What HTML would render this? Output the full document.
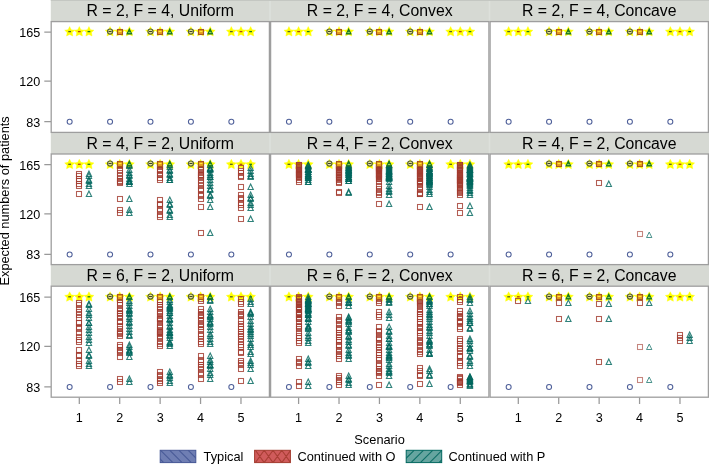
<!DOCTYPE html>
<html lang="en"><head><meta charset="utf-8"><title>Expected numbers of patients by scenario</title>
<style>html,body{margin:0;padding:0;background:#fff;overflow:hidden}svg{display:block}</style></head>
<body>
<svg width="709" height="464" viewBox="0 0 709 464" font-family="'Liberation Sans', sans-serif">
<rect width="709" height="464" fill="#fff"/>
<rect x="50.8" y="0" width="658.2" height="21.6" fill="#D6D9D3"/>
<rect x="269.2" y="0" width="1.6" height="21.6" fill="#DDE0DB"/>
<rect x="488.7" y="0" width="1.6" height="21.6" fill="#DDE0DB"/>
<rect x="50.8" y="132.4" width="658.2" height="21.6" fill="#D6D9D3"/>
<rect x="269.2" y="132.4" width="1.6" height="21.6" fill="#DDE0DB"/>
<rect x="488.7" y="132.4" width="1.6" height="21.6" fill="#DDE0DB"/>
<rect x="50.8" y="264.6" width="658.2" height="21.6" fill="#D6D9D3"/>
<rect x="269.2" y="264.6" width="1.6" height="21.6" fill="#DDE0DB"/>
<rect x="488.7" y="264.6" width="1.6" height="21.6" fill="#DDE0DB"/>
<rect x="50.8" y="0" width="658.2" height="1" fill="#C4C7C2"/>
<rect x="51.2" y="21.6" width="218.2" height="110.8" fill="#fff" stroke="#9E9E9E" stroke-width="1.3"/>
<rect x="270.6" y="21.6" width="218.3" height="110.8" fill="#fff" stroke="#9E9E9E" stroke-width="1.3"/>
<rect x="490.1" y="21.6" width="218.3" height="110.8" fill="#fff" stroke="#9E9E9E" stroke-width="1.3"/>
<rect x="51.2" y="154" width="218.2" height="110.6" fill="#fff" stroke="#9E9E9E" stroke-width="1.3"/>
<rect x="270.6" y="154" width="218.3" height="110.6" fill="#fff" stroke="#9E9E9E" stroke-width="1.3"/>
<rect x="490.1" y="154" width="218.3" height="110.6" fill="#fff" stroke="#9E9E9E" stroke-width="1.3"/>
<rect x="51.2" y="286.2" width="218.2" height="111" fill="#fff" stroke="#9E9E9E" stroke-width="1.3"/>
<rect x="270.6" y="286.2" width="218.3" height="111" fill="#fff" stroke="#9E9E9E" stroke-width="1.3"/>
<rect x="490.1" y="286.2" width="218.3" height="111" fill="#fff" stroke="#9E9E9E" stroke-width="1.3"/>
<path d="M44.3 32 H51 M44.3 81.23 H51 M44.3 121.7 H51 M44.3 164.7 H51 M44.3 213.93 H51 M44.3 254.4 H51 M44.3 297.2 H51 M44.3 346.43 H51 M44.3 386.9 H51 M79.3 397.6 V404 M119.72 397.6 V404 M160.14 397.6 V404 M200.56 397.6 V404 M240.98 397.6 V404 M298.6 397.6 V404 M339.02 397.6 V404 M379.44 397.6 V404 M419.86 397.6 V404 M460.28 397.6 V404 M518.3 397.6 V404 M558.72 397.6 V404 M599.14 397.6 V404 M639.56 397.6 V404 M679.98 397.6 V404" stroke="#999" stroke-width="1.25" fill="none"/>
<g font-size="12.6" fill="#000" text-anchor="end">
<text x="40.2" y="36.9">165</text>
<text x="40.2" y="86.13">120</text>
<text x="40.2" y="126.6">83</text>
<text x="40.2" y="169.6">165</text>
<text x="40.2" y="218.83">120</text>
<text x="40.2" y="259.3">83</text>
<text x="40.2" y="302.1">165</text>
<text x="40.2" y="351.33">120</text>
<text x="40.2" y="391.8">83</text>
</g>
<g font-size="12.6" fill="#000" text-anchor="middle">
<text x="79.3" y="421.8">1</text>
<text x="119.72" y="421.8">2</text>
<text x="160.14" y="421.8">3</text>
<text x="200.56" y="421.8">4</text>
<text x="240.98" y="421.8">5</text>
<text x="298.6" y="421.8">1</text>
<text x="339.02" y="421.8">2</text>
<text x="379.44" y="421.8">3</text>
<text x="419.86" y="421.8">4</text>
<text x="460.28" y="421.8">5</text>
<text x="518.3" y="421.8">1</text>
<text x="558.72" y="421.8">2</text>
<text x="599.14" y="421.8">3</text>
<text x="639.56" y="421.8">4</text>
<text x="679.98" y="421.8">5</text>
</g>
<g font-size="15.8" fill="#000" text-anchor="middle">
<text x="160.3" y="16.1">R = 2, F = 4, Uniform</text>
<text x="379.75" y="16.1">R = 2, F = 4, Convex</text>
<text x="599.25" y="16.1">R = 2, F = 4, Concave</text>
<text x="160.3" y="148.5">R = 4, F = 2, Uniform</text>
<text x="379.75" y="148.5">R = 4, F = 2, Convex</text>
<text x="599.25" y="148.5">R = 4, F = 2, Concave</text>
<text x="160.3" y="280.7">R = 6, F = 2, Uniform</text>
<text x="379.75" y="280.7">R = 6, F = 2, Convex</text>
<text x="599.25" y="280.7">R = 6, F = 2, Concave</text>
</g>
<text font-size="12.8" text-anchor="middle" transform="translate(9.0 200.9) rotate(-90)">Expected numbers of patients</text>
<text font-size="12.8" text-anchor="middle" x="379.6" y="444.2">Scenario</text>
<defs>
<clipPath id="cb"><rect x="160.2" y="450.3" width="35.6" height="12.3"/></clipPath>
<clipPath id="cr"><rect x="254.6" y="450.3" width="35.8" height="12.3"/></clipPath>
<clipPath id="ct"><rect x="406.2" y="450.3" width="35.5" height="12.3"/></clipPath>
</defs>
<rect x="160.2" y="450.3" width="35.6" height="12.3" fill="#6F7EB3"/>
<path clip-path="url(#cb)" d="M151.4 450.3 l12.3 12.3 M160.6 450.3 l12.3 12.3 M169.8 450.3 l12.3 12.3 M179 450.3 l12.3 12.3 M188.2 450.3 l12.3 12.3" stroke="#445694" stroke-width="1.1" stroke-opacity="0.85" fill="none"/>
<rect x="160.2" y="450.3" width="35.6" height="12.3" fill="none" stroke="#445694" stroke-width="1"/>
<rect x="254.6" y="450.3" width="35.8" height="12.3" fill="#D05B5B"/>
<path clip-path="url(#cr)" d="M255.4 450.3 l8.8 12.3 M264.2 450.3 l-8.8 12.3 M264.2 450.3 l8.8 12.3 M273 450.3 l-8.8 12.3 M273 450.3 l8.8 12.3 M281.8 450.3 l-8.8 12.3 M281.8 450.3 l8.8 12.3 M290.6 450.3 l-8.8 12.3" stroke="#A23A2E" stroke-width="1.1" stroke-opacity="0.85" fill="none"/>
<rect x="254.6" y="450.3" width="35.8" height="12.3" fill="none" stroke="#A23A2E" stroke-width="1"/>
<rect x="406.2" y="450.3" width="35.5" height="12.3" fill="#66A5A0"/>
<path clip-path="url(#ct)" d="M414.1 450.3 l-12.3 12.3 M423.4 450.3 l-12.3 12.3 M432.7 450.3 l-12.3 12.3 M442 450.3 l-12.3 12.3 M451.3 450.3 l-12.3 12.3" stroke="#01665E" stroke-width="1.1" stroke-opacity="0.85" fill="none"/>
<rect x="406.2" y="450.3" width="35.5" height="12.3" fill="none" stroke="#01665E" stroke-width="1"/>
<g font-size="12.8" fill="#000">
<text x="203.6" y="460.8">Typical</text>
<text x="297.4" y="460.8">Continued with O</text>
<text x="448.6" y="460.8">Continued with P</text>
</g>
<g fill="#FFFF00" stroke="#FFFF00" stroke-width="0.6" stroke-linejoin="round" stroke-opacity="0.6"><polygon points="69.65,26.55 71.21,29.66 74.64,30.18 72.17,32.62 72.74,36.05 69.65,34.45 66.56,36.05 67.13,32.62 64.66,30.18 68.09,29.66"/><polygon points="79.3,26.55 80.86,29.66 84.29,30.18 81.82,32.62 82.39,36.05 79.3,34.45 76.21,36.05 76.78,32.62 74.31,30.18 77.74,29.66"/><polygon points="88.95,26.55 90.51,29.66 93.94,30.18 91.47,32.62 92.04,36.05 88.95,34.45 85.86,36.05 86.43,32.62 83.96,30.18 87.39,29.66"/><polygon points="110.07,26.55 111.63,29.66 115.06,30.18 112.59,32.62 113.16,36.05 110.07,34.45 106.98,36.05 107.55,32.62 105.08,30.18 108.51,29.66"/><polygon points="119.72,26.55 121.28,29.66 124.71,30.18 122.24,32.62 122.81,36.05 119.72,34.45 116.63,36.05 117.2,32.62 114.73,30.18 118.16,29.66"/><polygon points="129.37,26.55 130.93,29.66 134.36,30.18 131.89,32.62 132.46,36.05 129.37,34.45 126.28,36.05 126.85,32.62 124.38,30.18 127.81,29.66"/><polygon points="150.49,26.55 152.05,29.66 155.48,30.18 153.01,32.62 153.58,36.05 150.49,34.45 147.4,36.05 147.97,32.62 145.5,30.18 148.93,29.66"/><polygon points="160.14,26.55 161.7,29.66 165.13,30.18 162.66,32.62 163.23,36.05 160.14,34.45 157.05,36.05 157.62,32.62 155.15,30.18 158.58,29.66"/><polygon points="169.79,26.55 171.35,29.66 174.78,30.18 172.31,32.62 172.88,36.05 169.79,34.45 166.7,36.05 167.27,32.62 164.8,30.18 168.23,29.66"/><polygon points="190.91,26.55 192.47,29.66 195.9,30.18 193.43,32.62 194,36.05 190.91,34.45 187.82,36.05 188.39,32.62 185.92,30.18 189.35,29.66"/><polygon points="200.56,26.55 202.12,29.66 205.55,30.18 203.08,32.62 203.65,36.05 200.56,34.45 197.47,36.05 198.04,32.62 195.57,30.18 199,29.66"/><polygon points="210.21,26.55 211.77,29.66 215.2,30.18 212.73,32.62 213.3,36.05 210.21,34.45 207.12,36.05 207.69,32.62 205.22,30.18 208.65,29.66"/><polygon points="231.33,26.55 232.89,29.66 236.32,30.18 233.85,32.62 234.42,36.05 231.33,34.45 228.24,36.05 228.81,32.62 226.34,30.18 229.77,29.66"/><polygon points="240.98,26.55 242.54,29.66 245.97,30.18 243.5,32.62 244.07,36.05 240.98,34.45 237.89,36.05 238.46,32.62 235.99,30.18 239.42,29.66"/><polygon points="250.63,26.55 252.19,29.66 255.62,30.18 253.15,32.62 253.72,36.05 250.63,34.45 247.54,36.05 248.11,32.62 245.64,30.18 249.07,29.66"/></g>
<g fill="none" stroke="#445694" stroke-width="1.05" stroke-opacity="0.95"><circle cx="69.65" cy="121.7" r="2.5"/><circle cx="110.07" cy="121.7" r="2.5"/><circle cx="150.49" cy="121.7" r="2.5"/><circle cx="190.91" cy="121.7" r="2.5"/><circle cx="231.33" cy="121.7" r="2.5"/></g>
<path d="M68.25 31.6 h2.8" stroke="#55602A" stroke-width="1.3"/><path d="M77.9 31.6 h2.8" stroke="#B04A10" stroke-width="1.3"/><path d="M87.55 31.6 h2.8" stroke="#1F7A1F" stroke-width="1.3"/>
<g fill="#E4E48E" stroke="#565F34" stroke-width="1.15"><circle cx="110.07" cy="31.5" r="2.55"/></g><g fill="#E79E1C" stroke="#A9591A" stroke-width="1.1"><rect x="117.5" y="29.5" width="5" height="5"/></g><g fill="#2F8F2A" stroke="#1B7524" stroke-width="1.15"><polygon points="129.37,29.2 131.67,34 127.07,34"/></g>
<path d="M108.57 31.5 h3" stroke-width="1" stroke="#3A4030"/><path d="M118.5 31.5 h3" stroke-width="1" stroke="#FFE63A"/><path d="M128.17 32.5 h2.4" stroke-width="1" stroke="#8FD05A"/>
<g fill="#E4E48E" stroke="#565F34" stroke-width="1.15"><circle cx="150.49" cy="31.5" r="2.55"/></g><g fill="#E79E1C" stroke="#A9591A" stroke-width="1.1"><rect x="157.5" y="29.5" width="5" height="5"/></g><g fill="#2F8F2A" stroke="#1B7524" stroke-width="1.15"><polygon points="169.79,29.2 172.09,34 167.49,34"/></g>
<path d="M148.99 31.5 h3" stroke-width="1" stroke="#3A4030"/><path d="M158.5 31.5 h3" stroke-width="1" stroke="#FFE63A"/><path d="M168.59 32.5 h2.4" stroke-width="1" stroke="#8FD05A"/>
<g fill="#E4E48E" stroke="#565F34" stroke-width="1.15"><circle cx="190.91" cy="31.5" r="2.55"/></g><g fill="#E79E1C" stroke="#A9591A" stroke-width="1.1"><rect x="198.5" y="29.5" width="5" height="5"/></g><g fill="#2F8F2A" stroke="#1B7524" stroke-width="1.15"><polygon points="210.21,29.2 212.51,34 207.91,34"/></g>
<path d="M189.41 31.5 h3" stroke-width="1" stroke="#3A4030"/><path d="M199.5 31.5 h3" stroke-width="1" stroke="#FFE63A"/><path d="M209.01 32.5 h2.4" stroke-width="1" stroke="#8FD05A"/>
<path d="M229.93 31.6 h2.8" stroke="#55602A" stroke-width="1.3"/><path d="M239.58 31.6 h2.8" stroke="#B04A10" stroke-width="1.3"/><path d="M249.23 31.6 h2.8" stroke="#1F7A1F" stroke-width="1.3"/>
<g fill="#FFFF00" stroke="#FFFF00" stroke-width="0.6" stroke-linejoin="round" stroke-opacity="0.6"><polygon points="288.95,26.55 290.51,29.66 293.94,30.18 291.47,32.62 292.04,36.05 288.95,34.45 285.86,36.05 286.43,32.62 283.96,30.18 287.39,29.66"/><polygon points="298.6,26.55 300.16,29.66 303.59,30.18 301.12,32.62 301.69,36.05 298.6,34.45 295.51,36.05 296.08,32.62 293.61,30.18 297.04,29.66"/><polygon points="308.25,26.55 309.81,29.66 313.24,30.18 310.77,32.62 311.34,36.05 308.25,34.45 305.16,36.05 305.73,32.62 303.26,30.18 306.69,29.66"/><polygon points="329.37,26.55 330.93,29.66 334.36,30.18 331.89,32.62 332.46,36.05 329.37,34.45 326.28,36.05 326.85,32.62 324.38,30.18 327.81,29.66"/><polygon points="339.02,26.55 340.58,29.66 344.01,30.18 341.54,32.62 342.11,36.05 339.02,34.45 335.93,36.05 336.5,32.62 334.03,30.18 337.46,29.66"/><polygon points="348.67,26.55 350.23,29.66 353.66,30.18 351.19,32.62 351.76,36.05 348.67,34.45 345.58,36.05 346.15,32.62 343.68,30.18 347.11,29.66"/><polygon points="369.79,26.55 371.35,29.66 374.78,30.18 372.31,32.62 372.88,36.05 369.79,34.45 366.7,36.05 367.27,32.62 364.8,30.18 368.23,29.66"/><polygon points="379.44,26.55 381,29.66 384.43,30.18 381.96,32.62 382.53,36.05 379.44,34.45 376.35,36.05 376.92,32.62 374.45,30.18 377.88,29.66"/><polygon points="389.09,26.55 390.65,29.66 394.08,30.18 391.61,32.62 392.18,36.05 389.09,34.45 386,36.05 386.57,32.62 384.1,30.18 387.53,29.66"/><polygon points="410.21,26.55 411.77,29.66 415.2,30.18 412.73,32.62 413.3,36.05 410.21,34.45 407.12,36.05 407.69,32.62 405.22,30.18 408.65,29.66"/><polygon points="419.86,26.55 421.42,29.66 424.85,30.18 422.38,32.62 422.95,36.05 419.86,34.45 416.77,36.05 417.34,32.62 414.87,30.18 418.3,29.66"/><polygon points="429.51,26.55 431.07,29.66 434.5,30.18 432.03,32.62 432.6,36.05 429.51,34.45 426.42,36.05 426.99,32.62 424.52,30.18 427.95,29.66"/><polygon points="450.63,26.55 452.19,29.66 455.62,30.18 453.15,32.62 453.72,36.05 450.63,34.45 447.54,36.05 448.11,32.62 445.64,30.18 449.07,29.66"/><polygon points="460.28,26.55 461.84,29.66 465.27,30.18 462.8,32.62 463.37,36.05 460.28,34.45 457.19,36.05 457.76,32.62 455.29,30.18 458.72,29.66"/><polygon points="469.93,26.55 471.49,29.66 474.92,30.18 472.45,32.62 473.02,36.05 469.93,34.45 466.84,36.05 467.41,32.62 464.94,30.18 468.37,29.66"/></g>
<g fill="none" stroke="#445694" stroke-width="1.05" stroke-opacity="0.95"><circle cx="288.95" cy="121.7" r="2.5"/><circle cx="329.37" cy="121.7" r="2.5"/><circle cx="369.79" cy="121.7" r="2.5"/><circle cx="410.21" cy="121.7" r="2.5"/><circle cx="450.63" cy="121.7" r="2.5"/></g>
<path d="M287.55 31.6 h2.8" stroke="#55602A" stroke-width="1.3"/><path d="M297.2 31.6 h2.8" stroke="#B04A10" stroke-width="1.3"/><path d="M306.85 31.6 h2.8" stroke="#1F7A1F" stroke-width="1.3"/>
<g fill="#E4E48E" stroke="#565F34" stroke-width="1.15"><circle cx="329.37" cy="31.5" r="2.55"/></g><g fill="#E79E1C" stroke="#A9591A" stroke-width="1.1"><rect x="336.5" y="29.5" width="5" height="5"/></g><g fill="#2F8F2A" stroke="#1B7524" stroke-width="1.15"><polygon points="348.67,29.2 350.97,34 346.37,34"/></g>
<path d="M327.87 31.5 h3" stroke-width="1" stroke="#3A4030"/><path d="M337.5 31.5 h3" stroke-width="1" stroke="#FFE63A"/><path d="M347.47 32.5 h2.4" stroke-width="1" stroke="#8FD05A"/>
<g fill="#E4E48E" stroke="#565F34" stroke-width="1.15"><circle cx="369.79" cy="31.5" r="2.55"/></g><g fill="#E79E1C" stroke="#A9591A" stroke-width="1.1"><rect x="376.5" y="29.5" width="5" height="5"/></g><g fill="#2F8F2A" stroke="#1B7524" stroke-width="1.15"><polygon points="389.09,29.2 391.39,34 386.79,34"/></g>
<path d="M368.29 31.5 h3" stroke-width="1" stroke="#3A4030"/><path d="M377.5 31.5 h3" stroke-width="1" stroke="#FFE63A"/><path d="M387.89 32.5 h2.4" stroke-width="1" stroke="#8FD05A"/>
<g fill="#E4E48E" stroke="#565F34" stroke-width="1.15"><circle cx="410.21" cy="31.5" r="2.55"/></g><g fill="#E79E1C" stroke="#A9591A" stroke-width="1.1"><rect x="417.5" y="29.5" width="5" height="5"/></g><g fill="#2F8F2A" stroke="#1B7524" stroke-width="1.15"><polygon points="429.51,29.2 431.81,34 427.21,34"/></g>
<path d="M408.71 31.5 h3" stroke-width="1" stroke="#3A4030"/><path d="M418.5 31.5 h3" stroke-width="1" stroke="#FFE63A"/><path d="M428.31 32.5 h2.4" stroke-width="1" stroke="#8FD05A"/>
<path d="M449.23 31.6 h2.8" stroke="#55602A" stroke-width="1.3"/><path d="M458.88 31.6 h2.8" stroke="#B04A10" stroke-width="1.3"/><path d="M468.53 31.6 h2.8" stroke="#1F7A1F" stroke-width="1.3"/>
<g fill="#FFFF00" stroke="#FFFF00" stroke-width="0.6" stroke-linejoin="round" stroke-opacity="0.6"><polygon points="508.65,26.55 510.21,29.66 513.64,30.18 511.17,32.62 511.74,36.05 508.65,34.45 505.56,36.05 506.13,32.62 503.66,30.18 507.09,29.66"/><polygon points="518.3,26.55 519.86,29.66 523.29,30.18 520.82,32.62 521.39,36.05 518.3,34.45 515.21,36.05 515.78,32.62 513.31,30.18 516.74,29.66"/><polygon points="527.95,26.55 529.51,29.66 532.94,30.18 530.47,32.62 531.04,36.05 527.95,34.45 524.86,36.05 525.43,32.62 522.96,30.18 526.39,29.66"/><polygon points="549.07,26.55 550.63,29.66 554.06,30.18 551.59,32.62 552.16,36.05 549.07,34.45 545.98,36.05 546.55,32.62 544.08,30.18 547.51,29.66"/><polygon points="558.72,26.55 560.28,29.66 563.71,30.18 561.24,32.62 561.81,36.05 558.72,34.45 555.63,36.05 556.2,32.62 553.73,30.18 557.16,29.66"/><polygon points="568.37,26.55 569.93,29.66 573.36,30.18 570.89,32.62 571.46,36.05 568.37,34.45 565.28,36.05 565.85,32.62 563.38,30.18 566.81,29.66"/><polygon points="589.49,26.55 591.05,29.66 594.48,30.18 592.01,32.62 592.58,36.05 589.49,34.45 586.4,36.05 586.97,32.62 584.5,30.18 587.93,29.66"/><polygon points="599.14,26.55 600.7,29.66 604.13,30.18 601.66,32.62 602.23,36.05 599.14,34.45 596.05,36.05 596.62,32.62 594.15,30.18 597.58,29.66"/><polygon points="608.79,26.55 610.35,29.66 613.78,30.18 611.31,32.62 611.88,36.05 608.79,34.45 605.7,36.05 606.27,32.62 603.8,30.18 607.23,29.66"/><polygon points="629.91,26.55 631.47,29.66 634.9,30.18 632.43,32.62 633,36.05 629.91,34.45 626.82,36.05 627.39,32.62 624.92,30.18 628.35,29.66"/><polygon points="639.56,26.55 641.12,29.66 644.55,30.18 642.08,32.62 642.65,36.05 639.56,34.45 636.47,36.05 637.04,32.62 634.57,30.18 638,29.66"/><polygon points="649.21,26.55 650.77,29.66 654.2,30.18 651.73,32.62 652.3,36.05 649.21,34.45 646.12,36.05 646.69,32.62 644.22,30.18 647.65,29.66"/><polygon points="670.33,26.55 671.89,29.66 675.32,30.18 672.85,32.62 673.42,36.05 670.33,34.45 667.24,36.05 667.81,32.62 665.34,30.18 668.77,29.66"/><polygon points="679.98,26.55 681.54,29.66 684.97,30.18 682.5,32.62 683.07,36.05 679.98,34.45 676.89,36.05 677.46,32.62 674.99,30.18 678.42,29.66"/><polygon points="689.63,26.55 691.19,29.66 694.62,30.18 692.15,32.62 692.72,36.05 689.63,34.45 686.54,36.05 687.11,32.62 684.64,30.18 688.07,29.66"/></g>
<g fill="none" stroke="#445694" stroke-width="1.05" stroke-opacity="0.95"><circle cx="508.65" cy="121.7" r="2.5"/><circle cx="549.07" cy="121.7" r="2.5"/><circle cx="589.49" cy="121.7" r="2.5"/><circle cx="629.91" cy="121.7" r="2.5"/><circle cx="670.33" cy="121.7" r="2.5"/></g>
<path d="M507.25 31.6 h2.8" stroke="#55602A" stroke-width="1.3"/><path d="M516.9 31.6 h2.8" stroke="#B04A10" stroke-width="1.3"/><path d="M526.55 31.6 h2.8" stroke="#1F7A1F" stroke-width="1.3"/>
<g fill="#E4E48E" stroke="#565F34" stroke-width="1.15"><circle cx="549.07" cy="31.5" r="2.55"/></g><g fill="#E79E1C" stroke="#A9591A" stroke-width="1.1"><rect x="556.5" y="29.5" width="5" height="5"/></g><g fill="#2F8F2A" stroke="#1B7524" stroke-width="1.15"><polygon points="568.37,29.2 570.67,34 566.07,34"/></g>
<path d="M547.57 31.5 h3" stroke-width="1" stroke="#3A4030"/><path d="M557.5 31.5 h3" stroke-width="1" stroke="#FFE63A"/><path d="M567.17 32.5 h2.4" stroke-width="1" stroke="#8FD05A"/>
<g fill="#E4E48E" stroke="#565F34" stroke-width="1.15"><circle cx="589.49" cy="31.5" r="2.55"/></g><g fill="#E79E1C" stroke="#A9591A" stroke-width="1.1"><rect x="596.5" y="29.5" width="5" height="5"/></g><g fill="#2F8F2A" stroke="#1B7524" stroke-width="1.15"><polygon points="608.79,29.2 611.09,34 606.49,34"/></g>
<path d="M587.99 31.5 h3" stroke-width="1" stroke="#3A4030"/><path d="M597.5 31.5 h3" stroke-width="1" stroke="#FFE63A"/><path d="M607.59 32.5 h2.4" stroke-width="1" stroke="#8FD05A"/>
<g fill="#E4E48E" stroke="#565F34" stroke-width="1.15"><circle cx="629.91" cy="31.5" r="2.55"/></g><g fill="#E79E1C" stroke="#A9591A" stroke-width="1.1"><rect x="637.5" y="29.5" width="5" height="5"/></g><g fill="#2F8F2A" stroke="#1B7524" stroke-width="1.15"><polygon points="649.21,29.2 651.51,34 646.91,34"/></g>
<path d="M628.41 31.5 h3" stroke-width="1" stroke="#3A4030"/><path d="M638.5 31.5 h3" stroke-width="1" stroke="#FFE63A"/><path d="M648.01 32.5 h2.4" stroke-width="1" stroke="#8FD05A"/>
<path d="M668.93 31.6 h2.8" stroke="#55602A" stroke-width="1.3"/><path d="M678.58 31.6 h2.8" stroke="#B04A10" stroke-width="1.3"/><path d="M688.23 31.6 h2.8" stroke="#1F7A1F" stroke-width="1.3"/>
<g fill="#FFFF00" stroke="#FFFF00" stroke-width="0.6" stroke-linejoin="round" stroke-opacity="0.6"><polygon points="69.65,159.25 71.21,162.36 74.64,162.88 72.17,165.32 72.74,168.75 69.65,167.15 66.56,168.75 67.13,165.32 64.66,162.88 68.09,162.36"/><polygon points="79.3,159.25 80.86,162.36 84.29,162.88 81.82,165.32 82.39,168.75 79.3,167.15 76.21,168.75 76.78,165.32 74.31,162.88 77.74,162.36"/><polygon points="88.95,159.25 90.51,162.36 93.94,162.88 91.47,165.32 92.04,168.75 88.95,167.15 85.86,168.75 86.43,165.32 83.96,162.88 87.39,162.36"/><polygon points="110.07,159.25 111.63,162.36 115.06,162.88 112.59,165.32 113.16,168.75 110.07,167.15 106.98,168.75 107.55,165.32 105.08,162.88 108.51,162.36"/><polygon points="119.72,159.25 121.28,162.36 124.71,162.88 122.24,165.32 122.81,168.75 119.72,167.15 116.63,168.75 117.2,165.32 114.73,162.88 118.16,162.36"/><polygon points="129.37,159.25 130.93,162.36 134.36,162.88 131.89,165.32 132.46,168.75 129.37,167.15 126.28,168.75 126.85,165.32 124.38,162.88 127.81,162.36"/><polygon points="150.49,159.25 152.05,162.36 155.48,162.88 153.01,165.32 153.58,168.75 150.49,167.15 147.4,168.75 147.97,165.32 145.5,162.88 148.93,162.36"/><polygon points="160.14,159.25 161.7,162.36 165.13,162.88 162.66,165.32 163.23,168.75 160.14,167.15 157.05,168.75 157.62,165.32 155.15,162.88 158.58,162.36"/><polygon points="169.79,159.25 171.35,162.36 174.78,162.88 172.31,165.32 172.88,168.75 169.79,167.15 166.7,168.75 167.27,165.32 164.8,162.88 168.23,162.36"/><polygon points="190.91,159.25 192.47,162.36 195.9,162.88 193.43,165.32 194,168.75 190.91,167.15 187.82,168.75 188.39,165.32 185.92,162.88 189.35,162.36"/><polygon points="200.56,159.25 202.12,162.36 205.55,162.88 203.08,165.32 203.65,168.75 200.56,167.15 197.47,168.75 198.04,165.32 195.57,162.88 199,162.36"/><polygon points="210.21,159.25 211.77,162.36 215.2,162.88 212.73,165.32 213.3,168.75 210.21,167.15 207.12,168.75 207.69,165.32 205.22,162.88 208.65,162.36"/><polygon points="231.33,159.25 232.89,162.36 236.32,162.88 233.85,165.32 234.42,168.75 231.33,167.15 228.24,168.75 228.81,165.32 226.34,162.88 229.77,162.36"/><polygon points="240.98,159.25 242.54,162.36 245.97,162.88 243.5,165.32 244.07,168.75 240.98,167.15 237.89,168.75 238.46,165.32 235.99,162.88 239.42,162.36"/><polygon points="250.63,159.25 252.19,162.36 255.62,162.88 253.15,165.32 253.72,168.75 250.63,167.15 247.54,168.75 248.11,165.32 245.64,162.88 249.07,162.36"/></g>
<g fill="none" stroke="#445694" stroke-width="1.05" stroke-opacity="0.95"><circle cx="69.65" cy="254.4" r="2.5"/><circle cx="110.07" cy="254.4" r="2.5"/><circle cx="150.49" cy="254.4" r="2.5"/><circle cx="190.91" cy="254.4" r="2.5"/><circle cx="231.33" cy="254.4" r="2.5"/></g>
<g fill="none" stroke="#A23A2E" stroke-width="1.05" stroke-opacity="0.82"><rect x="76.5" y="171.5" width="5" height="5"/><rect x="76.5" y="173.5" width="5" height="5"/><rect x="76.5" y="176.5" width="5" height="5"/><rect x="76.5" y="178.5" width="5" height="5"/><rect x="76.5" y="181.5" width="5" height="5"/><rect x="76.5" y="183.5" width="5" height="5"/><rect x="76.5" y="191.5" width="5" height="5"/><rect x="117.5" y="162.5" width="5" height="5"/><rect x="117.5" y="163.5" width="5" height="5"/><rect x="117.5" y="167.5" width="5" height="5"/><rect x="117.5" y="170.5" width="5" height="5"/><rect x="117.5" y="173.5" width="5" height="5"/><rect x="117.5" y="176.5" width="5" height="5"/><rect x="117.5" y="178.5" width="5" height="5"/><rect x="117.5" y="179.5" width="5" height="5"/><rect x="117.5" y="180.5" width="5" height="5"/><rect x="117.5" y="196.5" width="5" height="5"/><rect x="117.5" y="207.5" width="5" height="5"/><rect x="117.5" y="210.5" width="5" height="5"/><rect x="157.5" y="162.5" width="5" height="5"/><rect x="157.5" y="164.5" width="5" height="5"/><rect x="157.5" y="167.5" width="5" height="5"/><rect x="157.5" y="168.5" width="5" height="5"/><rect x="157.5" y="171.5" width="5" height="5"/><rect x="157.5" y="172.5" width="5" height="5"/><rect x="157.5" y="175.5" width="5" height="5"/><rect x="157.5" y="177.5" width="5" height="5"/><rect x="157.5" y="197.5" width="5" height="5"/><rect x="157.5" y="201.5" width="5" height="5"/><rect x="157.5" y="202.5" width="5" height="5"/><rect x="157.5" y="206.5" width="5" height="5"/><rect x="157.5" y="208.5" width="5" height="5"/><rect x="157.5" y="212.5" width="5" height="5"/><rect x="157.5" y="214.5" width="5" height="5"/><rect x="198.5" y="162.5" width="5" height="5"/><rect x="198.5" y="164.5" width="5" height="5"/><rect x="198.5" y="166.5" width="5" height="5"/><rect x="198.5" y="167.5" width="5" height="5"/><rect x="198.5" y="170.5" width="5" height="5"/><rect x="198.5" y="172.5" width="5" height="5"/><rect x="198.5" y="173.5" width="5" height="5"/><rect x="198.5" y="172.5" width="5" height="5"/><rect x="198.5" y="174.5" width="5" height="5"/><rect x="198.5" y="177.5" width="5" height="5"/><rect x="198.5" y="180.5" width="5" height="5"/><rect x="198.5" y="183.5" width="5" height="5"/><rect x="198.5" y="186.5" width="5" height="5"/><rect x="198.5" y="187.5" width="5" height="5"/><rect x="198.5" y="192.5" width="5" height="5"/><rect x="198.5" y="193.5" width="5" height="5"/><rect x="198.5" y="196.5" width="5" height="5"/><rect x="198.5" y="204.5" width="5" height="5"/><rect x="198.5" y="230.5" width="5" height="5"/><rect x="238.5" y="165.5" width="5" height="5"/><rect x="238.5" y="168.5" width="5" height="5"/><rect x="238.5" y="170.5" width="5" height="5"/><rect x="238.5" y="173.5" width="5" height="5"/><rect x="238.5" y="174.5" width="5" height="5"/><rect x="238.5" y="184.5" width="5" height="5"/><rect x="238.5" y="192.5" width="5" height="5"/><rect x="238.5" y="195.5" width="5" height="5"/><rect x="238.5" y="196.5" width="5" height="5"/><rect x="238.5" y="200.5" width="5" height="5"/><rect x="238.5" y="202.5" width="5" height="5"/><rect x="238.5" y="205.5" width="5" height="5"/><rect x="238.5" y="216.5" width="5" height="5"/></g>
<g fill="none" stroke="#01665E" stroke-width="1.1" stroke-opacity="0.82"><polygon points="88.95,171.1 91.6,176.5 86.3,176.5"/><polygon points="88.95,173.1 91.6,178.5 86.3,178.5"/><polygon points="88.95,177.1 91.6,182.5 86.3,182.5"/><polygon points="88.95,178.1 91.6,183.5 86.3,183.5"/><polygon points="88.95,181.1 91.6,186.5 86.3,186.5"/><polygon points="88.95,183.1 91.6,188.5 86.3,188.5"/><polygon points="88.95,191.1 91.6,196.5 86.3,196.5"/><polygon points="129.37,162.1 132.02,167.5 126.72,167.5"/><polygon points="129.37,163.1 132.02,168.5 126.72,168.5"/><polygon points="129.37,167.1 132.02,172.5 126.72,172.5"/><polygon points="129.37,170.1 132.02,175.5 126.72,175.5"/><polygon points="129.37,172.1 132.02,177.5 126.72,177.5"/><polygon points="129.37,173.1 132.02,178.5 126.72,178.5"/><polygon points="129.37,176.1 132.02,181.5 126.72,181.5"/><polygon points="129.37,178.1 132.02,183.5 126.72,183.5"/><polygon points="129.37,179.1 132.02,184.5 126.72,184.5"/><polygon points="129.37,179.1 132.02,184.5 126.72,184.5"/><polygon points="129.37,179.1 132.02,184.5 126.72,184.5"/><polygon points="129.37,181.1 132.02,186.5 126.72,186.5"/><polygon points="129.37,196.1 132.02,201.5 126.72,201.5"/><polygon points="129.37,207.1 132.02,212.5 126.72,212.5"/><polygon points="129.37,210.1 132.02,215.5 126.72,215.5"/><polygon points="169.79,162.1 172.44,167.5 167.14,167.5"/><polygon points="169.79,164.1 172.44,169.5 167.14,169.5"/><polygon points="169.79,167.1 172.44,172.5 167.14,172.5"/><polygon points="169.79,168.1 172.44,173.5 167.14,173.5"/><polygon points="169.79,171.1 172.44,176.5 167.14,176.5"/><polygon points="169.79,172.1 172.44,177.5 167.14,177.5"/><polygon points="169.79,175.1 172.44,180.5 167.14,180.5"/><polygon points="169.79,177.1 172.44,182.5 167.14,182.5"/><polygon points="169.79,177.1 172.44,182.5 167.14,182.5"/><polygon points="169.79,197.1 172.44,202.5 167.14,202.5"/><polygon points="169.79,201.1 172.44,206.5 167.14,206.5"/><polygon points="169.79,202.1 172.44,207.5 167.14,207.5"/><polygon points="169.79,207.1 172.44,212.5 167.14,212.5"/><polygon points="169.79,208.1 172.44,213.5 167.14,213.5"/><polygon points="169.79,212.1 172.44,217.5 167.14,217.5"/><polygon points="169.79,214.1 172.44,219.5 167.14,219.5"/><polygon points="210.21,162.1 212.86,167.5 207.56,167.5"/><polygon points="210.21,165.1 212.86,170.5 207.56,170.5"/><polygon points="210.21,166.1 212.86,171.5 207.56,171.5"/><polygon points="210.21,167.1 212.86,172.5 207.56,172.5"/><polygon points="210.21,166.1 212.86,171.5 207.56,171.5"/><polygon points="210.21,170.1 212.86,175.5 207.56,175.5"/><polygon points="210.21,172.1 212.86,177.5 207.56,177.5"/><polygon points="210.21,174.1 212.86,179.5 207.56,179.5"/><polygon points="210.21,174.1 212.86,179.5 207.56,179.5"/><polygon points="210.21,177.1 212.86,182.5 207.56,182.5"/><polygon points="210.21,180.1 212.86,185.5 207.56,185.5"/><polygon points="210.21,183.1 212.86,188.5 207.56,188.5"/><polygon points="210.21,186.1 212.86,191.5 207.56,191.5"/><polygon points="210.21,187.1 212.86,192.5 207.56,192.5"/><polygon points="210.21,192.1 212.86,197.5 207.56,197.5"/><polygon points="210.21,193.1 212.86,198.5 207.56,198.5"/><polygon points="210.21,197.1 212.86,202.5 207.56,202.5"/><polygon points="210.21,204.1 212.86,209.5 207.56,209.5"/><polygon points="210.21,230.1 212.86,235.5 207.56,235.5"/><polygon points="250.63,165.1 253.28,170.5 247.98,170.5"/><polygon points="250.63,168.1 253.28,173.5 247.98,173.5"/><polygon points="250.63,171.1 253.28,176.5 247.98,176.5"/><polygon points="250.63,173.1 253.28,178.5 247.98,178.5"/><polygon points="250.63,174.1 253.28,179.5 247.98,179.5"/><polygon points="250.63,184.1 253.28,189.5 247.98,189.5"/><polygon points="250.63,192.1 253.28,197.5 247.98,197.5"/><polygon points="250.63,195.1 253.28,200.5 247.98,200.5"/><polygon points="250.63,196.1 253.28,201.5 247.98,201.5"/><polygon points="250.63,200.1 253.28,205.5 247.98,205.5"/><polygon points="250.63,202.1 253.28,207.5 247.98,207.5"/><polygon points="250.63,205.1 253.28,210.5 247.98,210.5"/><polygon points="250.63,216.1 253.28,221.5 247.98,221.5"/></g>
<path d="M68.25 164.3 h2.8" stroke="#55602A" stroke-width="1.3"/><path d="M77.9 164.3 h2.8" stroke="#B04A10" stroke-width="1.3"/><path d="M87.55 164.3 h2.8" stroke="#1F7A1F" stroke-width="1.3"/>
<g fill="#E4E48E" stroke="#565F34" stroke-width="1.15"><circle cx="110.07" cy="163.5" r="2.55"/></g><g fill="#E79E1C" stroke="#A9591A" stroke-width="1.1"><rect x="117.5" y="161.5" width="5" height="5"/></g><g fill="#2F8F2A" stroke="#1B7524" stroke-width="1.15"><polygon points="129.37,161.2 131.67,166 127.07,166"/></g>
<path d="M108.57 163.5 h3" stroke-width="1" stroke="#3A4030"/><path d="M118.5 163.5 h3" stroke-width="1" stroke="#FFE63A"/><path d="M128.17 164.5 h2.4" stroke-width="1" stroke="#8FD05A"/>
<g fill="#E4E48E" stroke="#565F34" stroke-width="1.15"><circle cx="150.49" cy="163.5" r="2.55"/></g><g fill="#E79E1C" stroke="#A9591A" stroke-width="1.1"><rect x="157.5" y="161.5" width="5" height="5"/></g><g fill="#2F8F2A" stroke="#1B7524" stroke-width="1.15"><polygon points="169.79,161.2 172.09,166 167.49,166"/></g>
<path d="M148.99 163.5 h3" stroke-width="1" stroke="#3A4030"/><path d="M158.5 163.5 h3" stroke-width="1" stroke="#FFE63A"/><path d="M168.59 164.5 h2.4" stroke-width="1" stroke="#8FD05A"/>
<g fill="#E4E48E" stroke="#565F34" stroke-width="1.15"><circle cx="190.91" cy="163.5" r="2.55"/></g><g fill="#E79E1C" stroke="#A9591A" stroke-width="1.1"><rect x="198.5" y="161.5" width="5" height="5"/></g><g fill="#2F8F2A" stroke="#1B7524" stroke-width="1.15"><polygon points="210.21,161.2 212.51,166 207.91,166"/></g>
<path d="M189.41 163.5 h3" stroke-width="1" stroke="#3A4030"/><path d="M199.5 163.5 h3" stroke-width="1" stroke="#FFE63A"/><path d="M209.01 164.5 h2.4" stroke-width="1" stroke="#8FD05A"/>
<path d="M229.93 164.3 h2.8" stroke="#55602A" stroke-width="1.3"/><path d="M239.58 164.3 h2.8" stroke="#B04A10" stroke-width="1.3"/><path d="M249.23 164.3 h2.8" stroke="#1F7A1F" stroke-width="1.3"/>
<g fill="#FFFF00" stroke="#FFFF00" stroke-width="0.6" stroke-linejoin="round" stroke-opacity="0.6"><polygon points="288.95,159.25 290.51,162.36 293.94,162.88 291.47,165.32 292.04,168.75 288.95,167.15 285.86,168.75 286.43,165.32 283.96,162.88 287.39,162.36"/><polygon points="298.6,159.25 300.16,162.36 303.59,162.88 301.12,165.32 301.69,168.75 298.6,167.15 295.51,168.75 296.08,165.32 293.61,162.88 297.04,162.36"/><polygon points="308.25,159.25 309.81,162.36 313.24,162.88 310.77,165.32 311.34,168.75 308.25,167.15 305.16,168.75 305.73,165.32 303.26,162.88 306.69,162.36"/><polygon points="329.37,159.25 330.93,162.36 334.36,162.88 331.89,165.32 332.46,168.75 329.37,167.15 326.28,168.75 326.85,165.32 324.38,162.88 327.81,162.36"/><polygon points="339.02,159.25 340.58,162.36 344.01,162.88 341.54,165.32 342.11,168.75 339.02,167.15 335.93,168.75 336.5,165.32 334.03,162.88 337.46,162.36"/><polygon points="348.67,159.25 350.23,162.36 353.66,162.88 351.19,165.32 351.76,168.75 348.67,167.15 345.58,168.75 346.15,165.32 343.68,162.88 347.11,162.36"/><polygon points="369.79,159.25 371.35,162.36 374.78,162.88 372.31,165.32 372.88,168.75 369.79,167.15 366.7,168.75 367.27,165.32 364.8,162.88 368.23,162.36"/><polygon points="379.44,159.25 381,162.36 384.43,162.88 381.96,165.32 382.53,168.75 379.44,167.15 376.35,168.75 376.92,165.32 374.45,162.88 377.88,162.36"/><polygon points="389.09,159.25 390.65,162.36 394.08,162.88 391.61,165.32 392.18,168.75 389.09,167.15 386,168.75 386.57,165.32 384.1,162.88 387.53,162.36"/><polygon points="410.21,159.25 411.77,162.36 415.2,162.88 412.73,165.32 413.3,168.75 410.21,167.15 407.12,168.75 407.69,165.32 405.22,162.88 408.65,162.36"/><polygon points="419.86,159.25 421.42,162.36 424.85,162.88 422.38,165.32 422.95,168.75 419.86,167.15 416.77,168.75 417.34,165.32 414.87,162.88 418.3,162.36"/><polygon points="429.51,159.25 431.07,162.36 434.5,162.88 432.03,165.32 432.6,168.75 429.51,167.15 426.42,168.75 426.99,165.32 424.52,162.88 427.95,162.36"/><polygon points="450.63,159.25 452.19,162.36 455.62,162.88 453.15,165.32 453.72,168.75 450.63,167.15 447.54,168.75 448.11,165.32 445.64,162.88 449.07,162.36"/><polygon points="460.28,159.25 461.84,162.36 465.27,162.88 462.8,165.32 463.37,168.75 460.28,167.15 457.19,168.75 457.76,165.32 455.29,162.88 458.72,162.36"/><polygon points="469.93,159.25 471.49,162.36 474.92,162.88 472.45,165.32 473.02,168.75 469.93,167.15 466.84,168.75 467.41,165.32 464.94,162.88 468.37,162.36"/></g>
<g fill="none" stroke="#445694" stroke-width="1.05" stroke-opacity="0.95"><circle cx="288.95" cy="254.4" r="2.5"/><circle cx="329.37" cy="254.4" r="2.5"/><circle cx="369.79" cy="254.4" r="2.5"/><circle cx="410.21" cy="254.4" r="2.5"/><circle cx="450.63" cy="254.4" r="2.5"/></g>
<g fill="none" stroke="#A23A2E" stroke-width="1.05" stroke-opacity="0.82"><rect x="296.5" y="162.5" width="5" height="5"/><rect x="296.5" y="162.5" width="5" height="5"/><rect x="296.5" y="163.5" width="5" height="5"/><rect x="296.5" y="164.5" width="5" height="5"/><rect x="296.5" y="165.5" width="5" height="5"/><rect x="296.5" y="166.5" width="5" height="5"/><rect x="296.5" y="167.5" width="5" height="5"/><rect x="296.5" y="167.5" width="5" height="5"/><rect x="296.5" y="168.5" width="5" height="5"/><rect x="296.5" y="169.5" width="5" height="5"/><rect x="296.5" y="170.5" width="5" height="5"/><rect x="296.5" y="171.5" width="5" height="5"/><rect x="296.5" y="171.5" width="5" height="5"/><rect x="296.5" y="172.5" width="5" height="5"/><rect x="296.5" y="172.5" width="5" height="5"/><rect x="296.5" y="173.5" width="5" height="5"/><rect x="296.5" y="174.5" width="5" height="5"/><rect x="296.5" y="175.5" width="5" height="5"/><rect x="296.5" y="177.5" width="5" height="5"/><rect x="296.5" y="179.5" width="5" height="5"/><rect x="336.5" y="162.5" width="5" height="5"/><rect x="336.5" y="163.5" width="5" height="5"/><rect x="336.5" y="163.5" width="5" height="5"/><rect x="336.5" y="164.5" width="5" height="5"/><rect x="336.5" y="165.5" width="5" height="5"/><rect x="336.5" y="164.5" width="5" height="5"/><rect x="336.5" y="166.5" width="5" height="5"/><rect x="336.5" y="167.5" width="5" height="5"/><rect x="336.5" y="167.5" width="5" height="5"/><rect x="336.5" y="169.5" width="5" height="5"/><rect x="336.5" y="170.5" width="5" height="5"/><rect x="336.5" y="170.5" width="5" height="5"/><rect x="336.5" y="172.5" width="5" height="5"/><rect x="336.5" y="172.5" width="5" height="5"/><rect x="336.5" y="173.5" width="5" height="5"/><rect x="336.5" y="174.5" width="5" height="5"/><rect x="336.5" y="175.5" width="5" height="5"/><rect x="336.5" y="176.5" width="5" height="5"/><rect x="336.5" y="177.5" width="5" height="5"/><rect x="336.5" y="179.5" width="5" height="5"/><rect x="336.5" y="180.5" width="5" height="5"/><rect x="336.5" y="189.5" width="5" height="5"/><rect x="336.5" y="190.5" width="5" height="5"/><rect x="376.5" y="162.5" width="5" height="5"/><rect x="376.5" y="162.5" width="5" height="5"/><rect x="376.5" y="163.5" width="5" height="5"/><rect x="376.5" y="164.5" width="5" height="5"/><rect x="376.5" y="165.5" width="5" height="5"/><rect x="376.5" y="165.5" width="5" height="5"/><rect x="376.5" y="166.5" width="5" height="5"/><rect x="376.5" y="166.5" width="5" height="5"/><rect x="376.5" y="165.5" width="5" height="5"/><rect x="376.5" y="167.5" width="5" height="5"/><rect x="376.5" y="166.5" width="5" height="5"/><rect x="376.5" y="167.5" width="5" height="5"/><rect x="376.5" y="168.5" width="5" height="5"/><rect x="376.5" y="169.5" width="5" height="5"/><rect x="376.5" y="168.5" width="5" height="5"/><rect x="376.5" y="170.5" width="5" height="5"/><rect x="376.5" y="171.5" width="5" height="5"/><rect x="376.5" y="172.5" width="5" height="5"/><rect x="376.5" y="173.5" width="5" height="5"/><rect x="376.5" y="172.5" width="5" height="5"/><rect x="376.5" y="173.5" width="5" height="5"/><rect x="376.5" y="174.5" width="5" height="5"/><rect x="376.5" y="175.5" width="5" height="5"/><rect x="376.5" y="176.5" width="5" height="5"/><rect x="376.5" y="176.5" width="5" height="5"/><rect x="376.5" y="179.5" width="5" height="5"/><rect x="376.5" y="183.5" width="5" height="5"/><rect x="376.5" y="186.5" width="5" height="5"/><rect x="376.5" y="189.5" width="5" height="5"/><rect x="376.5" y="190.5" width="5" height="5"/><rect x="376.5" y="192.5" width="5" height="5"/><rect x="376.5" y="201.5" width="5" height="5"/><rect x="417.5" y="162.5" width="5" height="5"/><rect x="417.5" y="162.5" width="5" height="5"/><rect x="417.5" y="164.5" width="5" height="5"/><rect x="417.5" y="165.5" width="5" height="5"/><rect x="417.5" y="166.5" width="5" height="5"/><rect x="417.5" y="167.5" width="5" height="5"/><rect x="417.5" y="168.5" width="5" height="5"/><rect x="417.5" y="169.5" width="5" height="5"/><rect x="417.5" y="168.5" width="5" height="5"/><rect x="417.5" y="170.5" width="5" height="5"/><rect x="417.5" y="171.5" width="5" height="5"/><rect x="417.5" y="172.5" width="5" height="5"/><rect x="417.5" y="173.5" width="5" height="5"/><rect x="417.5" y="174.5" width="5" height="5"/><rect x="417.5" y="173.5" width="5" height="5"/><rect x="417.5" y="175.5" width="5" height="5"/><rect x="417.5" y="176.5" width="5" height="5"/><rect x="417.5" y="178.5" width="5" height="5"/><rect x="417.5" y="178.5" width="5" height="5"/><rect x="417.5" y="179.5" width="5" height="5"/><rect x="417.5" y="180.5" width="5" height="5"/><rect x="417.5" y="181.5" width="5" height="5"/><rect x="417.5" y="184.5" width="5" height="5"/><rect x="417.5" y="187.5" width="5" height="5"/><rect x="417.5" y="190.5" width="5" height="5"/><rect x="417.5" y="191.5" width="5" height="5"/><rect x="417.5" y="191.5" width="5" height="5"/><rect x="417.5" y="204.5" width="5" height="5"/><rect x="457.5" y="162.5" width="5" height="5"/><rect x="457.5" y="162.5" width="5" height="5"/><rect x="457.5" y="163.5" width="5" height="5"/><rect x="457.5" y="165.5" width="5" height="5"/><rect x="457.5" y="164.5" width="5" height="5"/><rect x="457.5" y="166.5" width="5" height="5"/><rect x="457.5" y="165.5" width="5" height="5"/><rect x="457.5" y="167.5" width="5" height="5"/><rect x="457.5" y="167.5" width="5" height="5"/><rect x="457.5" y="168.5" width="5" height="5"/><rect x="457.5" y="170.5" width="5" height="5"/><rect x="457.5" y="171.5" width="5" height="5"/><rect x="457.5" y="172.5" width="5" height="5"/><rect x="457.5" y="172.5" width="5" height="5"/><rect x="457.5" y="173.5" width="5" height="5"/><rect x="457.5" y="174.5" width="5" height="5"/><rect x="457.5" y="175.5" width="5" height="5"/><rect x="457.5" y="174.5" width="5" height="5"/><rect x="457.5" y="176.5" width="5" height="5"/><rect x="457.5" y="177.5" width="5" height="5"/><rect x="457.5" y="177.5" width="5" height="5"/><rect x="457.5" y="178.5" width="5" height="5"/><rect x="457.5" y="179.5" width="5" height="5"/><rect x="457.5" y="178.5" width="5" height="5"/><rect x="457.5" y="180.5" width="5" height="5"/><rect x="457.5" y="181.5" width="5" height="5"/><rect x="457.5" y="182.5" width="5" height="5"/><rect x="457.5" y="182.5" width="5" height="5"/><rect x="457.5" y="185.5" width="5" height="5"/><rect x="457.5" y="186.5" width="5" height="5"/><rect x="457.5" y="188.5" width="5" height="5"/><rect x="457.5" y="190.5" width="5" height="5"/><rect x="457.5" y="189.5" width="5" height="5"/><rect x="457.5" y="192.5" width="5" height="5"/><rect x="457.5" y="203.5" width="5" height="5"/><rect x="457.5" y="210.5" width="5" height="5"/></g>
<g fill="none" stroke="#01665E" stroke-width="1.1" stroke-opacity="0.82"><polygon points="308.25,162.1 310.9,167.5 305.6,167.5"/><polygon points="308.25,163.1 310.9,168.5 305.6,168.5"/><polygon points="308.25,163.1 310.9,168.5 305.6,168.5"/><polygon points="308.25,164.1 310.9,169.5 305.6,169.5"/><polygon points="308.25,166.1 310.9,171.5 305.6,171.5"/><polygon points="308.25,167.1 310.9,172.5 305.6,172.5"/><polygon points="308.25,167.1 310.9,172.5 305.6,172.5"/><polygon points="308.25,167.1 310.9,172.5 305.6,172.5"/><polygon points="308.25,167.1 310.9,172.5 305.6,172.5"/><polygon points="308.25,166.1 310.9,171.5 305.6,171.5"/><polygon points="308.25,169.1 310.9,174.5 305.6,174.5"/><polygon points="308.25,169.1 310.9,174.5 305.6,174.5"/><polygon points="308.25,171.1 310.9,176.5 305.6,176.5"/><polygon points="308.25,171.1 310.9,176.5 305.6,176.5"/><polygon points="308.25,172.1 310.9,177.5 305.6,177.5"/><polygon points="308.25,173.1 310.9,178.5 305.6,178.5"/><polygon points="308.25,173.1 310.9,178.5 305.6,178.5"/><polygon points="308.25,174.1 310.9,179.5 305.6,179.5"/><polygon points="308.25,175.1 310.9,180.5 305.6,180.5"/><polygon points="308.25,175.1 310.9,180.5 305.6,180.5"/><polygon points="308.25,177.1 310.9,182.5 305.6,182.5"/><polygon points="308.25,179.1 310.9,184.5 305.6,184.5"/><polygon points="308.25,179.1 310.9,184.5 305.6,184.5"/><polygon points="348.67,162.1 351.32,167.5 346.02,167.5"/><polygon points="348.67,163.1 351.32,168.5 346.02,168.5"/><polygon points="348.67,164.1 351.32,169.5 346.02,169.5"/><polygon points="348.67,165.1 351.32,170.5 346.02,170.5"/><polygon points="348.67,165.1 351.32,170.5 346.02,170.5"/><polygon points="348.67,166.1 351.32,171.5 346.02,171.5"/><polygon points="348.67,167.1 351.32,172.5 346.02,172.5"/><polygon points="348.67,167.1 351.32,172.5 346.02,172.5"/><polygon points="348.67,168.1 351.32,173.5 346.02,173.5"/><polygon points="348.67,168.1 351.32,173.5 346.02,173.5"/><polygon points="348.67,169.1 351.32,174.5 346.02,174.5"/><polygon points="348.67,171.1 351.32,176.5 346.02,176.5"/><polygon points="348.67,170.1 351.32,175.5 346.02,175.5"/><polygon points="348.67,170.1 351.32,175.5 346.02,175.5"/><polygon points="348.67,172.1 351.32,177.5 346.02,177.5"/><polygon points="348.67,172.1 351.32,177.5 346.02,177.5"/><polygon points="348.67,174.1 351.32,179.5 346.02,179.5"/><polygon points="348.67,174.1 351.32,179.5 346.02,179.5"/><polygon points="348.67,175.1 351.32,180.5 346.02,180.5"/><polygon points="348.67,176.1 351.32,181.5 346.02,181.5"/><polygon points="348.67,176.1 351.32,181.5 346.02,181.5"/><polygon points="348.67,178.1 351.32,183.5 346.02,183.5"/><polygon points="348.67,176.1 351.32,181.5 346.02,181.5"/><polygon points="348.67,178.1 351.32,183.5 346.02,183.5"/><polygon points="348.67,189.1 351.32,194.5 346.02,194.5"/><polygon points="348.67,190.1 351.32,195.5 346.02,195.5"/><polygon points="389.09,162.1 391.74,167.5 386.44,167.5"/><polygon points="389.09,162.1 391.74,167.5 386.44,167.5"/><polygon points="389.09,163.1 391.74,168.5 386.44,168.5"/><polygon points="389.09,164.1 391.74,169.5 386.44,169.5"/><polygon points="389.09,165.1 391.74,170.5 386.44,170.5"/><polygon points="389.09,166.1 391.74,171.5 386.44,171.5"/><polygon points="389.09,167.1 391.74,172.5 386.44,172.5"/><polygon points="389.09,168.1 391.74,173.5 386.44,173.5"/><polygon points="389.09,168.1 391.74,173.5 386.44,173.5"/><polygon points="389.09,169.1 391.74,174.5 386.44,174.5"/><polygon points="389.09,169.1 391.74,174.5 386.44,174.5"/><polygon points="389.09,171.1 391.74,176.5 386.44,176.5"/><polygon points="389.09,170.1 391.74,175.5 386.44,175.5"/><polygon points="389.09,171.1 391.74,176.5 386.44,176.5"/><polygon points="389.09,172.1 391.74,177.5 386.44,177.5"/><polygon points="389.09,173.1 391.74,178.5 386.44,178.5"/><polygon points="389.09,174.1 391.74,179.5 386.44,179.5"/><polygon points="389.09,174.1 391.74,179.5 386.44,179.5"/><polygon points="389.09,173.1 391.74,178.5 386.44,178.5"/><polygon points="389.09,175.1 391.74,180.5 386.44,180.5"/><polygon points="389.09,175.1 391.74,180.5 386.44,180.5"/><polygon points="389.09,174.1 391.74,179.5 386.44,179.5"/><polygon points="389.09,176.1 391.74,181.5 386.44,181.5"/><polygon points="389.09,175.1 391.74,180.5 386.44,180.5"/><polygon points="389.09,179.1 391.74,184.5 386.44,184.5"/><polygon points="389.09,183.1 391.74,188.5 386.44,188.5"/><polygon points="389.09,186.1 391.74,191.5 386.44,191.5"/><polygon points="389.09,189.1 391.74,194.5 386.44,194.5"/><polygon points="389.09,188.1 391.74,193.5 386.44,193.5"/><polygon points="389.09,192.1 391.74,197.5 386.44,197.5"/><polygon points="389.09,201.1 391.74,206.5 386.44,206.5"/><polygon points="429.51,162.1 432.16,167.5 426.86,167.5"/><polygon points="429.51,162.1 432.16,167.5 426.86,167.5"/><polygon points="429.51,164.1 432.16,169.5 426.86,169.5"/><polygon points="429.51,165.1 432.16,170.5 426.86,170.5"/><polygon points="429.51,166.1 432.16,171.5 426.86,171.5"/><polygon points="429.51,166.1 432.16,171.5 426.86,171.5"/><polygon points="429.51,168.1 432.16,173.5 426.86,173.5"/><polygon points="429.51,169.1 432.16,174.5 426.86,174.5"/><polygon points="429.51,168.1 432.16,173.5 426.86,173.5"/><polygon points="429.51,170.1 432.16,175.5 426.86,175.5"/><polygon points="429.51,170.1 432.16,175.5 426.86,175.5"/><polygon points="429.51,169.1 432.16,174.5 426.86,174.5"/><polygon points="429.51,171.1 432.16,176.5 426.86,176.5"/><polygon points="429.51,173.1 432.16,178.5 426.86,178.5"/><polygon points="429.51,172.1 432.16,177.5 426.86,177.5"/><polygon points="429.51,171.1 432.16,176.5 426.86,176.5"/><polygon points="429.51,174.1 432.16,179.5 426.86,179.5"/><polygon points="429.51,175.1 432.16,180.5 426.86,180.5"/><polygon points="429.51,173.1 432.16,178.5 426.86,178.5"/><polygon points="429.51,175.1 432.16,180.5 426.86,180.5"/><polygon points="429.51,177.1 432.16,182.5 426.86,182.5"/><polygon points="429.51,176.1 432.16,181.5 426.86,181.5"/><polygon points="429.51,177.1 432.16,182.5 426.86,182.5"/><polygon points="429.51,178.1 432.16,183.5 426.86,183.5"/><polygon points="429.51,179.1 432.16,184.5 426.86,184.5"/><polygon points="429.51,179.1 432.16,184.5 426.86,184.5"/><polygon points="429.51,178.1 432.16,183.5 426.86,183.5"/><polygon points="429.51,180.1 432.16,185.5 426.86,185.5"/><polygon points="429.51,181.1 432.16,186.5 426.86,186.5"/><polygon points="429.51,182.1 432.16,187.5 426.86,187.5"/><polygon points="429.51,184.1 432.16,189.5 426.86,189.5"/><polygon points="429.51,187.1 432.16,192.5 426.86,192.5"/><polygon points="429.51,189.1 432.16,194.5 426.86,194.5"/><polygon points="429.51,191.1 432.16,196.5 426.86,196.5"/><polygon points="429.51,204.1 432.16,209.5 426.86,209.5"/><polygon points="469.93,162.1 472.58,167.5 467.28,167.5"/><polygon points="469.93,163.1 472.58,168.5 467.28,168.5"/><polygon points="469.93,164.1 472.58,169.5 467.28,169.5"/><polygon points="469.93,165.1 472.58,170.5 467.28,170.5"/><polygon points="469.93,166.1 472.58,171.5 467.28,171.5"/><polygon points="469.93,167.1 472.58,172.5 467.28,172.5"/><polygon points="469.93,167.1 472.58,172.5 467.28,172.5"/><polygon points="469.93,167.1 472.58,172.5 467.28,172.5"/><polygon points="469.93,168.1 472.58,173.5 467.28,173.5"/><polygon points="469.93,169.1 472.58,174.5 467.28,174.5"/><polygon points="469.93,170.1 472.58,175.5 467.28,175.5"/><polygon points="469.93,171.1 472.58,176.5 467.28,176.5"/><polygon points="469.93,172.1 472.58,177.5 467.28,177.5"/><polygon points="469.93,171.1 472.58,176.5 467.28,176.5"/><polygon points="469.93,174.1 472.58,179.5 467.28,179.5"/><polygon points="469.93,175.1 472.58,180.5 467.28,180.5"/><polygon points="469.93,174.1 472.58,179.5 467.28,179.5"/><polygon points="469.93,175.1 472.58,180.5 467.28,180.5"/><polygon points="469.93,175.1 472.58,180.5 467.28,180.5"/><polygon points="469.93,176.1 472.58,181.5 467.28,181.5"/><polygon points="469.93,176.1 472.58,181.5 467.28,181.5"/><polygon points="469.93,177.1 472.58,182.5 467.28,182.5"/><polygon points="469.93,176.1 472.58,181.5 467.28,181.5"/><polygon points="469.93,178.1 472.58,183.5 467.28,183.5"/><polygon points="469.93,179.1 472.58,184.5 467.28,184.5"/><polygon points="469.93,179.1 472.58,184.5 467.28,184.5"/><polygon points="469.93,180.1 472.58,185.5 467.28,185.5"/><polygon points="469.93,178.1 472.58,183.5 467.28,183.5"/><polygon points="469.93,181.1 472.58,186.5 467.28,186.5"/><polygon points="469.93,182.1 472.58,187.5 467.28,187.5"/><polygon points="469.93,183.1 472.58,188.5 467.28,188.5"/><polygon points="469.93,185.1 472.58,190.5 467.28,190.5"/><polygon points="469.93,187.1 472.58,192.5 467.28,192.5"/><polygon points="469.93,188.1 472.58,193.5 467.28,193.5"/><polygon points="469.93,190.1 472.58,195.5 467.28,195.5"/><polygon points="469.93,192.1 472.58,197.5 467.28,197.5"/><polygon points="469.93,203.1 472.58,208.5 467.28,208.5"/><polygon points="469.93,210.1 472.58,215.5 467.28,215.5"/></g>
<path d="M287.55 164.3 h2.8" stroke="#55602A" stroke-width="1.3"/><path d="M297.2 164.3 h2.8" stroke="#B04A10" stroke-width="1.3"/><path d="M306.85 164.3 h2.8" stroke="#1F7A1F" stroke-width="1.3"/>
<g fill="#E4E48E" stroke="#565F34" stroke-width="1.15"><circle cx="329.37" cy="163.5" r="2.55"/></g><g fill="#E79E1C" stroke="#A9591A" stroke-width="1.1"><rect x="336.5" y="161.5" width="5" height="5"/></g><g fill="#2F8F2A" stroke="#1B7524" stroke-width="1.15"><polygon points="348.67,161.2 350.97,166 346.37,166"/></g>
<path d="M327.87 163.5 h3" stroke-width="1" stroke="#3A4030"/><path d="M337.5 163.5 h3" stroke-width="1" stroke="#FFE63A"/><path d="M347.47 164.5 h2.4" stroke-width="1" stroke="#8FD05A"/>
<g fill="#E4E48E" stroke="#565F34" stroke-width="1.15"><circle cx="369.79" cy="163.5" r="2.55"/></g><g fill="#E79E1C" stroke="#A9591A" stroke-width="1.1"><rect x="376.5" y="161.5" width="5" height="5"/></g><g fill="#2F8F2A" stroke="#1B7524" stroke-width="1.15"><polygon points="389.09,161.2 391.39,166 386.79,166"/></g>
<path d="M368.29 163.5 h3" stroke-width="1" stroke="#3A4030"/><path d="M377.5 163.5 h3" stroke-width="1" stroke="#FFE63A"/><path d="M387.89 164.5 h2.4" stroke-width="1" stroke="#8FD05A"/>
<g fill="#E4E48E" stroke="#565F34" stroke-width="1.15"><circle cx="410.21" cy="163.5" r="2.55"/></g><g fill="#E79E1C" stroke="#A9591A" stroke-width="1.1"><rect x="417.5" y="161.5" width="5" height="5"/></g><g fill="#2F8F2A" stroke="#1B7524" stroke-width="1.15"><polygon points="429.51,161.2 431.81,166 427.21,166"/></g>
<path d="M408.71 163.5 h3" stroke-width="1" stroke="#3A4030"/><path d="M418.5 163.5 h3" stroke-width="1" stroke="#FFE63A"/><path d="M428.31 164.5 h2.4" stroke-width="1" stroke="#8FD05A"/>
<path d="M449.23 164.3 h2.8" stroke="#55602A" stroke-width="1.3"/><path d="M458.88 164.3 h2.8" stroke="#B04A10" stroke-width="1.3"/><path d="M468.53 164.3 h2.8" stroke="#1F7A1F" stroke-width="1.3"/>
<g fill="#FFFF00" stroke="#FFFF00" stroke-width="0.6" stroke-linejoin="round" stroke-opacity="0.6"><polygon points="508.65,159.25 510.21,162.36 513.64,162.88 511.17,165.32 511.74,168.75 508.65,167.15 505.56,168.75 506.13,165.32 503.66,162.88 507.09,162.36"/><polygon points="518.3,159.25 519.86,162.36 523.29,162.88 520.82,165.32 521.39,168.75 518.3,167.15 515.21,168.75 515.78,165.32 513.31,162.88 516.74,162.36"/><polygon points="527.95,159.25 529.51,162.36 532.94,162.88 530.47,165.32 531.04,168.75 527.95,167.15 524.86,168.75 525.43,165.32 522.96,162.88 526.39,162.36"/><polygon points="549.07,159.25 550.63,162.36 554.06,162.88 551.59,165.32 552.16,168.75 549.07,167.15 545.98,168.75 546.55,165.32 544.08,162.88 547.51,162.36"/><polygon points="558.72,159.25 560.28,162.36 563.71,162.88 561.24,165.32 561.81,168.75 558.72,167.15 555.63,168.75 556.2,165.32 553.73,162.88 557.16,162.36"/><polygon points="568.37,159.25 569.93,162.36 573.36,162.88 570.89,165.32 571.46,168.75 568.37,167.15 565.28,168.75 565.85,165.32 563.38,162.88 566.81,162.36"/><polygon points="589.49,159.25 591.05,162.36 594.48,162.88 592.01,165.32 592.58,168.75 589.49,167.15 586.4,168.75 586.97,165.32 584.5,162.88 587.93,162.36"/><polygon points="599.14,159.25 600.7,162.36 604.13,162.88 601.66,165.32 602.23,168.75 599.14,167.15 596.05,168.75 596.62,165.32 594.15,162.88 597.58,162.36"/><polygon points="608.79,159.25 610.35,162.36 613.78,162.88 611.31,165.32 611.88,168.75 608.79,167.15 605.7,168.75 606.27,165.32 603.8,162.88 607.23,162.36"/><polygon points="629.91,159.25 631.47,162.36 634.9,162.88 632.43,165.32 633,168.75 629.91,167.15 626.82,168.75 627.39,165.32 624.92,162.88 628.35,162.36"/><polygon points="639.56,159.25 641.12,162.36 644.55,162.88 642.08,165.32 642.65,168.75 639.56,167.15 636.47,168.75 637.04,165.32 634.57,162.88 638,162.36"/><polygon points="649.21,159.25 650.77,162.36 654.2,162.88 651.73,165.32 652.3,168.75 649.21,167.15 646.12,168.75 646.69,165.32 644.22,162.88 647.65,162.36"/><polygon points="670.33,159.25 671.89,162.36 675.32,162.88 672.85,165.32 673.42,168.75 670.33,167.15 667.24,168.75 667.81,165.32 665.34,162.88 668.77,162.36"/><polygon points="679.98,159.25 681.54,162.36 684.97,162.88 682.5,165.32 683.07,168.75 679.98,167.15 676.89,168.75 677.46,165.32 674.99,162.88 678.42,162.36"/><polygon points="689.63,159.25 691.19,162.36 694.62,162.88 692.15,165.32 692.72,168.75 689.63,167.15 686.54,168.75 687.11,165.32 684.64,162.88 688.07,162.36"/></g>
<g fill="none" stroke="#445694" stroke-width="1.05" stroke-opacity="0.95"><circle cx="508.65" cy="254.4" r="2.5"/><circle cx="549.07" cy="254.4" r="2.5"/><circle cx="589.49" cy="254.4" r="2.5"/><circle cx="629.91" cy="254.4" r="2.5"/><circle cx="670.33" cy="254.4" r="2.5"/></g>
<g fill="none" stroke="#A23A2E" stroke-width="1.05" stroke-opacity="0.82"><rect x="596.5" y="180.5" width="5" height="5"/></g>
<g fill="none" stroke="#01665E" stroke-width="1.1" stroke-opacity="0.82"><polygon points="608.79,181.1 611.44,186.5 606.14,186.5"/></g>
<g fill="none" stroke="#A23A2E" stroke-width="1.05" stroke-opacity="0.62"><rect x="637.5" y="231.5" width="5" height="5"/></g>
<g fill="none" stroke="#01665E" stroke-width="1.0" stroke-opacity="0.7"><polygon points="649.21,232.1 651.86,237.5 646.56,237.5"/></g>
<path d="M507.25 164.3 h2.8" stroke="#55602A" stroke-width="1.3"/><path d="M516.9 164.3 h2.8" stroke="#B04A10" stroke-width="1.3"/><path d="M526.55 164.3 h2.8" stroke="#1F7A1F" stroke-width="1.3"/>
<g fill="#E4E48E" stroke="#565F34" stroke-width="1.15"><circle cx="549.07" cy="163.5" r="2.55"/></g><g fill="#E79E1C" stroke="#A9591A" stroke-width="1.1"><rect x="556.5" y="161.5" width="5" height="5"/></g><g fill="#2F8F2A" stroke="#1B7524" stroke-width="1.15"><polygon points="568.37,161.2 570.67,166 566.07,166"/></g>
<path d="M547.57 163.5 h3" stroke-width="1" stroke="#3A4030"/><path d="M557.5 163.5 h3" stroke-width="1" stroke="#FFE63A"/><path d="M567.17 164.5 h2.4" stroke-width="1" stroke="#8FD05A"/>
<g fill="#E4E48E" stroke="#565F34" stroke-width="1.15"><circle cx="589.49" cy="163.5" r="2.55"/></g><g fill="#E79E1C" stroke="#A9591A" stroke-width="1.1"><rect x="596.5" y="161.5" width="5" height="5"/></g><g fill="#2F8F2A" stroke="#1B7524" stroke-width="1.15"><polygon points="608.79,161.2 611.09,166 606.49,166"/></g>
<path d="M587.99 163.5 h3" stroke-width="1" stroke="#3A4030"/><path d="M597.5 163.5 h3" stroke-width="1" stroke="#FFE63A"/><path d="M607.59 164.5 h2.4" stroke-width="1" stroke="#8FD05A"/>
<g fill="#E4E48E" stroke="#565F34" stroke-width="1.15"><circle cx="629.91" cy="163.5" r="2.55"/></g><g fill="#E79E1C" stroke="#A9591A" stroke-width="1.1"><rect x="637.5" y="161.5" width="5" height="5"/></g><g fill="#2F8F2A" stroke="#1B7524" stroke-width="1.15"><polygon points="649.21,161.2 651.51,166 646.91,166"/></g>
<path d="M628.41 163.5 h3" stroke-width="1" stroke="#3A4030"/><path d="M638.5 163.5 h3" stroke-width="1" stroke="#FFE63A"/><path d="M648.01 164.5 h2.4" stroke-width="1" stroke="#8FD05A"/>
<path d="M668.93 164.3 h2.8" stroke="#55602A" stroke-width="1.3"/><path d="M678.58 164.3 h2.8" stroke="#B04A10" stroke-width="1.3"/><path d="M688.23 164.3 h2.8" stroke="#1F7A1F" stroke-width="1.3"/>
<g fill="#FFFF00" stroke="#FFFF00" stroke-width="0.6" stroke-linejoin="round" stroke-opacity="0.6"><polygon points="69.65,291.75 71.21,294.86 74.64,295.38 72.17,297.82 72.74,301.25 69.65,299.65 66.56,301.25 67.13,297.82 64.66,295.38 68.09,294.86"/><polygon points="79.3,291.75 80.86,294.86 84.29,295.38 81.82,297.82 82.39,301.25 79.3,299.65 76.21,301.25 76.78,297.82 74.31,295.38 77.74,294.86"/><polygon points="88.95,291.75 90.51,294.86 93.94,295.38 91.47,297.82 92.04,301.25 88.95,299.65 85.86,301.25 86.43,297.82 83.96,295.38 87.39,294.86"/><polygon points="110.07,291.75 111.63,294.86 115.06,295.38 112.59,297.82 113.16,301.25 110.07,299.65 106.98,301.25 107.55,297.82 105.08,295.38 108.51,294.86"/><polygon points="119.72,291.75 121.28,294.86 124.71,295.38 122.24,297.82 122.81,301.25 119.72,299.65 116.63,301.25 117.2,297.82 114.73,295.38 118.16,294.86"/><polygon points="129.37,291.75 130.93,294.86 134.36,295.38 131.89,297.82 132.46,301.25 129.37,299.65 126.28,301.25 126.85,297.82 124.38,295.38 127.81,294.86"/><polygon points="150.49,291.75 152.05,294.86 155.48,295.38 153.01,297.82 153.58,301.25 150.49,299.65 147.4,301.25 147.97,297.82 145.5,295.38 148.93,294.86"/><polygon points="160.14,291.75 161.7,294.86 165.13,295.38 162.66,297.82 163.23,301.25 160.14,299.65 157.05,301.25 157.62,297.82 155.15,295.38 158.58,294.86"/><polygon points="169.79,291.75 171.35,294.86 174.78,295.38 172.31,297.82 172.88,301.25 169.79,299.65 166.7,301.25 167.27,297.82 164.8,295.38 168.23,294.86"/><polygon points="190.91,291.75 192.47,294.86 195.9,295.38 193.43,297.82 194,301.25 190.91,299.65 187.82,301.25 188.39,297.82 185.92,295.38 189.35,294.86"/><polygon points="200.56,291.75 202.12,294.86 205.55,295.38 203.08,297.82 203.65,301.25 200.56,299.65 197.47,301.25 198.04,297.82 195.57,295.38 199,294.86"/><polygon points="210.21,291.75 211.77,294.86 215.2,295.38 212.73,297.82 213.3,301.25 210.21,299.65 207.12,301.25 207.69,297.82 205.22,295.38 208.65,294.86"/><polygon points="231.33,291.75 232.89,294.86 236.32,295.38 233.85,297.82 234.42,301.25 231.33,299.65 228.24,301.25 228.81,297.82 226.34,295.38 229.77,294.86"/><polygon points="240.98,291.75 242.54,294.86 245.97,295.38 243.5,297.82 244.07,301.25 240.98,299.65 237.89,301.25 238.46,297.82 235.99,295.38 239.42,294.86"/><polygon points="250.63,291.75 252.19,294.86 255.62,295.38 253.15,297.82 253.72,301.25 250.63,299.65 247.54,301.25 248.11,297.82 245.64,295.38 249.07,294.86"/></g>
<g fill="none" stroke="#445694" stroke-width="1.05" stroke-opacity="0.95"><circle cx="69.65" cy="386.9" r="2.5"/><circle cx="110.07" cy="386.9" r="2.5"/><circle cx="150.49" cy="386.9" r="2.5"/><circle cx="190.91" cy="386.9" r="2.5"/><circle cx="231.33" cy="386.9" r="2.5"/></g>
<g fill="none" stroke="#A23A2E" stroke-width="1.05" stroke-opacity="0.82"><rect x="76.5" y="300.5" width="5" height="5"/><rect x="76.5" y="302.5" width="5" height="5"/><rect x="76.5" y="306.5" width="5" height="5"/><rect x="76.5" y="309.5" width="5" height="5"/><rect x="76.5" y="312.5" width="5" height="5"/><rect x="76.5" y="315.5" width="5" height="5"/><rect x="76.5" y="320.5" width="5" height="5"/><rect x="76.5" y="320.5" width="5" height="5"/><rect x="76.5" y="324.5" width="5" height="5"/><rect x="76.5" y="326.5" width="5" height="5"/><rect x="76.5" y="330.5" width="5" height="5"/><rect x="76.5" y="334.5" width="5" height="5"/><rect x="76.5" y="337.5" width="5" height="5"/><rect x="76.5" y="339.5" width="5" height="5"/><rect x="76.5" y="347.5" width="5" height="5"/><rect x="76.5" y="352.5" width="5" height="5"/><rect x="76.5" y="353.5" width="5" height="5"/><rect x="76.5" y="358.5" width="5" height="5"/><rect x="76.5" y="361.5" width="5" height="5"/><rect x="76.5" y="363.5" width="5" height="5"/><rect x="117.5" y="294.5" width="5" height="5"/><rect x="117.5" y="297.5" width="5" height="5"/><rect x="117.5" y="300.5" width="5" height="5"/><rect x="117.5" y="302.5" width="5" height="5"/><rect x="117.5" y="306.5" width="5" height="5"/><rect x="117.5" y="308.5" width="5" height="5"/><rect x="117.5" y="311.5" width="5" height="5"/><rect x="117.5" y="310.5" width="5" height="5"/><rect x="117.5" y="313.5" width="5" height="5"/><rect x="117.5" y="315.5" width="5" height="5"/><rect x="117.5" y="319.5" width="5" height="5"/><rect x="117.5" y="319.5" width="5" height="5"/><rect x="117.5" y="323.5" width="5" height="5"/><rect x="117.5" y="326.5" width="5" height="5"/><rect x="117.5" y="329.5" width="5" height="5"/><rect x="117.5" y="331.5" width="5" height="5"/><rect x="117.5" y="330.5" width="5" height="5"/><rect x="117.5" y="333.5" width="5" height="5"/><rect x="117.5" y="342.5" width="5" height="5"/><rect x="117.5" y="344.5" width="5" height="5"/><rect x="117.5" y="347.5" width="5" height="5"/><rect x="117.5" y="348.5" width="5" height="5"/><rect x="117.5" y="350.5" width="5" height="5"/><rect x="117.5" y="354.5" width="5" height="5"/><rect x="117.5" y="376.5" width="5" height="5"/><rect x="117.5" y="379.5" width="5" height="5"/><rect x="157.5" y="294.5" width="5" height="5"/><rect x="157.5" y="297.5" width="5" height="5"/><rect x="157.5" y="299.5" width="5" height="5"/><rect x="157.5" y="302.5" width="5" height="5"/><rect x="157.5" y="304.5" width="5" height="5"/><rect x="157.5" y="306.5" width="5" height="5"/><rect x="157.5" y="309.5" width="5" height="5"/><rect x="157.5" y="310.5" width="5" height="5"/><rect x="157.5" y="313.5" width="5" height="5"/><rect x="157.5" y="316.5" width="5" height="5"/><rect x="157.5" y="317.5" width="5" height="5"/><rect x="157.5" y="316.5" width="5" height="5"/><rect x="157.5" y="320.5" width="5" height="5"/><rect x="157.5" y="323.5" width="5" height="5"/><rect x="157.5" y="324.5" width="5" height="5"/><rect x="157.5" y="327.5" width="5" height="5"/><rect x="157.5" y="329.5" width="5" height="5"/><rect x="157.5" y="329.5" width="5" height="5"/><rect x="157.5" y="330.5" width="5" height="5"/><rect x="157.5" y="331.5" width="5" height="5"/><rect x="157.5" y="333.5" width="5" height="5"/><rect x="157.5" y="335.5" width="5" height="5"/><rect x="157.5" y="339.5" width="5" height="5"/><rect x="157.5" y="341.5" width="5" height="5"/><rect x="157.5" y="343.5" width="5" height="5"/><rect x="157.5" y="369.5" width="5" height="5"/><rect x="157.5" y="372.5" width="5" height="5"/><rect x="157.5" y="373.5" width="5" height="5"/><rect x="157.5" y="376.5" width="5" height="5"/><rect x="157.5" y="378.5" width="5" height="5"/><rect x="157.5" y="380.5" width="5" height="5"/><rect x="198.5" y="294.5" width="5" height="5"/><rect x="198.5" y="296.5" width="5" height="5"/><rect x="198.5" y="298.5" width="5" height="5"/><rect x="198.5" y="306.5" width="5" height="5"/><rect x="198.5" y="309.5" width="5" height="5"/><rect x="198.5" y="312.5" width="5" height="5"/><rect x="198.5" y="313.5" width="5" height="5"/><rect x="198.5" y="312.5" width="5" height="5"/><rect x="198.5" y="315.5" width="5" height="5"/><rect x="198.5" y="318.5" width="5" height="5"/><rect x="198.5" y="321.5" width="5" height="5"/><rect x="198.5" y="322.5" width="5" height="5"/><rect x="198.5" y="324.5" width="5" height="5"/><rect x="198.5" y="327.5" width="5" height="5"/><rect x="198.5" y="331.5" width="5" height="5"/><rect x="198.5" y="333.5" width="5" height="5"/><rect x="198.5" y="336.5" width="5" height="5"/><rect x="198.5" y="339.5" width="5" height="5"/><rect x="198.5" y="341.5" width="5" height="5"/><rect x="198.5" y="353.5" width="5" height="5"/><rect x="198.5" y="357.5" width="5" height="5"/><rect x="198.5" y="359.5" width="5" height="5"/><rect x="198.5" y="362.5" width="5" height="5"/><rect x="198.5" y="364.5" width="5" height="5"/><rect x="198.5" y="366.5" width="5" height="5"/><rect x="198.5" y="370.5" width="5" height="5"/><rect x="198.5" y="372.5" width="5" height="5"/><rect x="198.5" y="376.5" width="5" height="5"/><rect x="238.5" y="296.5" width="5" height="5"/><rect x="238.5" y="299.5" width="5" height="5"/><rect x="238.5" y="301.5" width="5" height="5"/><rect x="238.5" y="309.5" width="5" height="5"/><rect x="238.5" y="311.5" width="5" height="5"/><rect x="238.5" y="312.5" width="5" height="5"/><rect x="238.5" y="313.5" width="5" height="5"/><rect x="238.5" y="318.5" width="5" height="5"/><rect x="238.5" y="321.5" width="5" height="5"/><rect x="238.5" y="324.5" width="5" height="5"/><rect x="238.5" y="326.5" width="5" height="5"/><rect x="238.5" y="329.5" width="5" height="5"/><rect x="238.5" y="331.5" width="5" height="5"/><rect x="238.5" y="333.5" width="5" height="5"/><rect x="238.5" y="336.5" width="5" height="5"/><rect x="238.5" y="339.5" width="5" height="5"/><rect x="238.5" y="342.5" width="5" height="5"/><rect x="238.5" y="344.5" width="5" height="5"/><rect x="238.5" y="349.5" width="5" height="5"/><rect x="238.5" y="350.5" width="5" height="5"/><rect x="238.5" y="358.5" width="5" height="5"/><rect x="238.5" y="360.5" width="5" height="5"/><rect x="238.5" y="362.5" width="5" height="5"/><rect x="238.5" y="366.5" width="5" height="5"/><rect x="238.5" y="378.5" width="5" height="5"/></g>
<g fill="none" stroke="#01665E" stroke-width="1.1" stroke-opacity="0.82"><polygon points="88.95,301.1 91.6,306.5 86.3,306.5"/><polygon points="88.95,302.1 91.6,307.5 86.3,307.5"/><polygon points="88.95,306.1 91.6,311.5 86.3,311.5"/><polygon points="88.95,310.1 91.6,315.5 86.3,315.5"/><polygon points="88.95,312.1 91.6,317.5 86.3,317.5"/><polygon points="88.95,315.1 91.6,320.5 86.3,320.5"/><polygon points="88.95,320.1 91.6,325.5 86.3,325.5"/><polygon points="88.95,320.1 91.6,325.5 86.3,325.5"/><polygon points="88.95,324.1 91.6,329.5 86.3,329.5"/><polygon points="88.95,327.1 91.6,332.5 86.3,332.5"/><polygon points="88.95,330.1 91.6,335.5 86.3,335.5"/><polygon points="88.95,334.1 91.6,339.5 86.3,339.5"/><polygon points="88.95,337.1 91.6,342.5 86.3,342.5"/><polygon points="88.95,340.1 91.6,345.5 86.3,345.5"/><polygon points="88.95,347.1 91.6,352.5 86.3,352.5"/><polygon points="88.95,352.1 91.6,357.5 86.3,357.5"/><polygon points="88.95,353.1 91.6,358.5 86.3,358.5"/><polygon points="88.95,358.1 91.6,363.5 86.3,363.5"/><polygon points="88.95,361.1 91.6,366.5 86.3,366.5"/><polygon points="88.95,363.1 91.6,368.5 86.3,368.5"/><polygon points="129.37,294.1 132.02,299.5 126.72,299.5"/><polygon points="129.37,298.1 132.02,303.5 126.72,303.5"/><polygon points="129.37,300.1 132.02,305.5 126.72,305.5"/><polygon points="129.37,303.1 132.02,308.5 126.72,308.5"/><polygon points="129.37,306.1 132.02,311.5 126.72,311.5"/><polygon points="129.37,308.1 132.02,313.5 126.72,313.5"/><polygon points="129.37,307.1 132.02,312.5 126.72,312.5"/><polygon points="129.37,311.1 132.02,316.5 126.72,316.5"/><polygon points="129.37,310.1 132.02,315.5 126.72,315.5"/><polygon points="129.37,314.1 132.02,319.5 126.72,319.5"/><polygon points="129.37,316.1 132.02,321.5 126.72,321.5"/><polygon points="129.37,319.1 132.02,324.5 126.72,324.5"/><polygon points="129.37,320.1 132.02,325.5 126.72,325.5"/><polygon points="129.37,323.1 132.02,328.5 126.72,328.5"/><polygon points="129.37,326.1 132.02,331.5 126.72,331.5"/><polygon points="129.37,329.1 132.02,334.5 126.72,334.5"/><polygon points="129.37,332.1 132.02,337.5 126.72,337.5"/><polygon points="129.37,333.1 132.02,338.5 126.72,338.5"/><polygon points="129.37,342.1 132.02,347.5 126.72,347.5"/><polygon points="129.37,344.1 132.02,349.5 126.72,349.5"/><polygon points="129.37,347.1 132.02,352.5 126.72,352.5"/><polygon points="129.37,349.1 132.02,354.5 126.72,354.5"/><polygon points="129.37,348.1 132.02,353.5 126.72,353.5"/><polygon points="129.37,350.1 132.02,355.5 126.72,355.5"/><polygon points="129.37,354.1 132.02,359.5 126.72,359.5"/><polygon points="129.37,376.1 132.02,381.5 126.72,381.5"/><polygon points="129.37,379.1 132.02,384.5 126.72,384.5"/><polygon points="169.79,294.1 172.44,299.5 167.14,299.5"/><polygon points="169.79,297.1 172.44,302.5 167.14,302.5"/><polygon points="169.79,299.1 172.44,304.5 167.14,304.5"/><polygon points="169.79,302.1 172.44,307.5 167.14,307.5"/><polygon points="169.79,304.1 172.44,309.5 167.14,309.5"/><polygon points="169.79,303.1 172.44,308.5 167.14,308.5"/><polygon points="169.79,306.1 172.44,311.5 167.14,311.5"/><polygon points="169.79,305.1 172.44,310.5 167.14,310.5"/><polygon points="169.79,308.1 172.44,313.5 167.14,313.5"/><polygon points="169.79,310.1 172.44,315.5 167.14,315.5"/><polygon points="169.79,310.1 172.44,315.5 167.14,315.5"/><polygon points="169.79,313.1 172.44,318.5 167.14,318.5"/><polygon points="169.79,316.1 172.44,321.5 167.14,321.5"/><polygon points="169.79,317.1 172.44,322.5 167.14,322.5"/><polygon points="169.79,316.1 172.44,321.5 167.14,321.5"/><polygon points="169.79,320.1 172.44,325.5 167.14,325.5"/><polygon points="169.79,323.1 172.44,328.5 167.14,328.5"/><polygon points="169.79,324.1 172.44,329.5 167.14,329.5"/><polygon points="169.79,327.1 172.44,332.5 167.14,332.5"/><polygon points="169.79,329.1 172.44,334.5 167.14,334.5"/><polygon points="169.79,330.1 172.44,335.5 167.14,335.5"/><polygon points="169.79,330.1 172.44,335.5 167.14,335.5"/><polygon points="169.79,333.1 172.44,338.5 167.14,338.5"/><polygon points="169.79,332.1 172.44,337.5 167.14,337.5"/><polygon points="169.79,335.1 172.44,340.5 167.14,340.5"/><polygon points="169.79,339.1 172.44,344.5 167.14,344.5"/><polygon points="169.79,341.1 172.44,346.5 167.14,346.5"/><polygon points="169.79,340.1 172.44,345.5 167.14,345.5"/><polygon points="169.79,343.1 172.44,348.5 167.14,348.5"/><polygon points="169.79,369.1 172.44,374.5 167.14,374.5"/><polygon points="169.79,372.1 172.44,377.5 167.14,377.5"/><polygon points="169.79,373.1 172.44,378.5 167.14,378.5"/><polygon points="169.79,375.1 172.44,380.5 167.14,380.5"/><polygon points="169.79,378.1 172.44,383.5 167.14,383.5"/><polygon points="169.79,380.1 172.44,385.5 167.14,385.5"/><polygon points="210.21,294.1 212.86,299.5 207.56,299.5"/><polygon points="210.21,297.1 212.86,302.5 207.56,302.5"/><polygon points="210.21,298.1 212.86,303.5 207.56,303.5"/><polygon points="210.21,306.1 212.86,311.5 207.56,311.5"/><polygon points="210.21,309.1 212.86,314.5 207.56,314.5"/><polygon points="210.21,312.1 212.86,317.5 207.56,317.5"/><polygon points="210.21,313.1 212.86,318.5 207.56,318.5"/><polygon points="210.21,314.1 212.86,319.5 207.56,319.5"/><polygon points="210.21,316.1 212.86,321.5 207.56,321.5"/><polygon points="210.21,319.1 212.86,324.5 207.56,324.5"/><polygon points="210.21,321.1 212.86,326.5 207.56,326.5"/><polygon points="210.21,320.1 212.86,325.5 207.56,325.5"/><polygon points="210.21,324.1 212.86,329.5 207.56,329.5"/><polygon points="210.21,327.1 212.86,332.5 207.56,332.5"/><polygon points="210.21,331.1 212.86,336.5 207.56,336.5"/><polygon points="210.21,333.1 212.86,338.5 207.56,338.5"/><polygon points="210.21,336.1 212.86,341.5 207.56,341.5"/><polygon points="210.21,339.1 212.86,344.5 207.56,344.5"/><polygon points="210.21,341.1 212.86,346.5 207.56,346.5"/><polygon points="210.21,353.1 212.86,358.5 207.56,358.5"/><polygon points="210.21,357.1 212.86,362.5 207.56,362.5"/><polygon points="210.21,359.1 212.86,364.5 207.56,364.5"/><polygon points="210.21,362.1 212.86,367.5 207.56,367.5"/><polygon points="210.21,363.1 212.86,368.5 207.56,368.5"/><polygon points="210.21,362.1 212.86,367.5 207.56,367.5"/><polygon points="210.21,366.1 212.86,371.5 207.56,371.5"/><polygon points="210.21,370.1 212.86,375.5 207.56,375.5"/><polygon points="210.21,372.1 212.86,377.5 207.56,377.5"/><polygon points="210.21,376.1 212.86,381.5 207.56,381.5"/><polygon points="250.63,296.1 253.28,301.5 247.98,301.5"/><polygon points="250.63,299.1 253.28,304.5 247.98,304.5"/><polygon points="250.63,301.1 253.28,306.5 247.98,306.5"/><polygon points="250.63,309.1 253.28,314.5 247.98,314.5"/><polygon points="250.63,311.1 253.28,316.5 247.98,316.5"/><polygon points="250.63,310.1 253.28,315.5 247.98,315.5"/><polygon points="250.63,314.1 253.28,319.5 247.98,319.5"/><polygon points="250.63,318.1 253.28,323.5 247.98,323.5"/><polygon points="250.63,321.1 253.28,326.5 247.98,326.5"/><polygon points="250.63,324.1 253.28,329.5 247.98,329.5"/><polygon points="250.63,327.1 253.28,332.5 247.98,332.5"/><polygon points="250.63,326.1 253.28,331.5 247.98,331.5"/><polygon points="250.63,329.1 253.28,334.5 247.98,334.5"/><polygon points="250.63,331.1 253.28,336.5 247.98,336.5"/><polygon points="250.63,333.1 253.28,338.5 247.98,338.5"/><polygon points="250.63,336.1 253.28,341.5 247.98,341.5"/><polygon points="250.63,340.1 253.28,345.5 247.98,345.5"/><polygon points="250.63,342.1 253.28,347.5 247.98,347.5"/><polygon points="250.63,344.1 253.28,349.5 247.98,349.5"/><polygon points="250.63,349.1 253.28,354.5 247.98,354.5"/><polygon points="250.63,351.1 253.28,356.5 247.98,356.5"/><polygon points="250.63,358.1 253.28,363.5 247.98,363.5"/><polygon points="250.63,360.1 253.28,365.5 247.98,365.5"/><polygon points="250.63,362.1 253.28,367.5 247.98,367.5"/><polygon points="250.63,366.1 253.28,371.5 247.98,371.5"/><polygon points="250.63,378.1 253.28,383.5 247.98,383.5"/></g>
<path d="M68.25 296.8 h2.8" stroke="#55602A" stroke-width="1.3"/><path d="M77.9 296.8 h2.8" stroke="#B04A10" stroke-width="1.3"/><path d="M87.55 296.8 h2.8" stroke="#1F7A1F" stroke-width="1.3"/>
<g fill="#E4E48E" stroke="#565F34" stroke-width="1.15"><circle cx="110.07" cy="296.5" r="2.55"/></g><g fill="#E79E1C" stroke="#A9591A" stroke-width="1.1"><rect x="117.5" y="294.5" width="5" height="5"/></g><g fill="#2F8F2A" stroke="#1B7524" stroke-width="1.15"><polygon points="129.37,294.2 131.67,299 127.07,299"/></g>
<path d="M108.57 296.5 h3" stroke-width="1" stroke="#3A4030"/><path d="M118.5 296.5 h3" stroke-width="1" stroke="#FFE63A"/><path d="M128.17 297.5 h2.4" stroke-width="1" stroke="#8FD05A"/>
<g fill="#E4E48E" stroke="#565F34" stroke-width="1.15"><circle cx="150.49" cy="296.5" r="2.55"/></g><g fill="#E79E1C" stroke="#A9591A" stroke-width="1.1"><rect x="157.5" y="294.5" width="5" height="5"/></g><g fill="#2F8F2A" stroke="#1B7524" stroke-width="1.15"><polygon points="169.79,294.2 172.09,299 167.49,299"/></g>
<path d="M148.99 296.5 h3" stroke-width="1" stroke="#3A4030"/><path d="M158.5 296.5 h3" stroke-width="1" stroke="#FFE63A"/><path d="M168.59 297.5 h2.4" stroke-width="1" stroke="#8FD05A"/>
<g fill="#E4E48E" stroke="#565F34" stroke-width="1.15"><circle cx="190.91" cy="296.5" r="2.55"/></g><g fill="#E79E1C" stroke="#A9591A" stroke-width="1.1"><rect x="198.5" y="294.5" width="5" height="5"/></g><g fill="#2F8F2A" stroke="#1B7524" stroke-width="1.15"><polygon points="210.21,294.2 212.51,299 207.91,299"/></g>
<path d="M189.41 296.5 h3" stroke-width="1" stroke="#3A4030"/><path d="M199.5 296.5 h3" stroke-width="1" stroke="#FFE63A"/><path d="M209.01 297.5 h2.4" stroke-width="1" stroke="#8FD05A"/>
<path d="M229.93 296.8 h2.8" stroke="#55602A" stroke-width="1.3"/><path d="M239.58 296.8 h2.8" stroke="#B04A10" stroke-width="1.3"/><path d="M249.23 296.8 h2.8" stroke="#1F7A1F" stroke-width="1.3"/>
<g fill="#FFFF00" stroke="#FFFF00" stroke-width="0.6" stroke-linejoin="round" stroke-opacity="0.6"><polygon points="288.95,291.75 290.51,294.86 293.94,295.38 291.47,297.82 292.04,301.25 288.95,299.65 285.86,301.25 286.43,297.82 283.96,295.38 287.39,294.86"/><polygon points="298.6,291.75 300.16,294.86 303.59,295.38 301.12,297.82 301.69,301.25 298.6,299.65 295.51,301.25 296.08,297.82 293.61,295.38 297.04,294.86"/><polygon points="308.25,291.75 309.81,294.86 313.24,295.38 310.77,297.82 311.34,301.25 308.25,299.65 305.16,301.25 305.73,297.82 303.26,295.38 306.69,294.86"/><polygon points="329.37,291.75 330.93,294.86 334.36,295.38 331.89,297.82 332.46,301.25 329.37,299.65 326.28,301.25 326.85,297.82 324.38,295.38 327.81,294.86"/><polygon points="339.02,291.75 340.58,294.86 344.01,295.38 341.54,297.82 342.11,301.25 339.02,299.65 335.93,301.25 336.5,297.82 334.03,295.38 337.46,294.86"/><polygon points="348.67,291.75 350.23,294.86 353.66,295.38 351.19,297.82 351.76,301.25 348.67,299.65 345.58,301.25 346.15,297.82 343.68,295.38 347.11,294.86"/><polygon points="369.79,291.75 371.35,294.86 374.78,295.38 372.31,297.82 372.88,301.25 369.79,299.65 366.7,301.25 367.27,297.82 364.8,295.38 368.23,294.86"/><polygon points="379.44,291.75 381,294.86 384.43,295.38 381.96,297.82 382.53,301.25 379.44,299.65 376.35,301.25 376.92,297.82 374.45,295.38 377.88,294.86"/><polygon points="389.09,291.75 390.65,294.86 394.08,295.38 391.61,297.82 392.18,301.25 389.09,299.65 386,301.25 386.57,297.82 384.1,295.38 387.53,294.86"/><polygon points="410.21,291.75 411.77,294.86 415.2,295.38 412.73,297.82 413.3,301.25 410.21,299.65 407.12,301.25 407.69,297.82 405.22,295.38 408.65,294.86"/><polygon points="419.86,291.75 421.42,294.86 424.85,295.38 422.38,297.82 422.95,301.25 419.86,299.65 416.77,301.25 417.34,297.82 414.87,295.38 418.3,294.86"/><polygon points="429.51,291.75 431.07,294.86 434.5,295.38 432.03,297.82 432.6,301.25 429.51,299.65 426.42,301.25 426.99,297.82 424.52,295.38 427.95,294.86"/><polygon points="450.63,291.75 452.19,294.86 455.62,295.38 453.15,297.82 453.72,301.25 450.63,299.65 447.54,301.25 448.11,297.82 445.64,295.38 449.07,294.86"/><polygon points="460.28,291.75 461.84,294.86 465.27,295.38 462.8,297.82 463.37,301.25 460.28,299.65 457.19,301.25 457.76,297.82 455.29,295.38 458.72,294.86"/><polygon points="469.93,291.75 471.49,294.86 474.92,295.38 472.45,297.82 473.02,301.25 469.93,299.65 466.84,301.25 467.41,297.82 464.94,295.38 468.37,294.86"/></g>
<g fill="none" stroke="#445694" stroke-width="1.05" stroke-opacity="0.95"><circle cx="288.95" cy="386.9" r="2.5"/><circle cx="329.37" cy="386.9" r="2.5"/><circle cx="369.79" cy="386.9" r="2.5"/><circle cx="410.21" cy="386.9" r="2.5"/><circle cx="450.63" cy="386.9" r="2.5"/></g>
<g fill="none" stroke="#A23A2E" stroke-width="1.05" stroke-opacity="0.82"><rect x="296.5" y="294.5" width="5" height="5"/><rect x="296.5" y="295.5" width="5" height="5"/><rect x="296.5" y="296.5" width="5" height="5"/><rect x="296.5" y="298.5" width="5" height="5"/><rect x="296.5" y="299.5" width="5" height="5"/><rect x="296.5" y="299.5" width="5" height="5"/><rect x="296.5" y="301.5" width="5" height="5"/><rect x="296.5" y="302.5" width="5" height="5"/><rect x="296.5" y="302.5" width="5" height="5"/><rect x="296.5" y="304.5" width="5" height="5"/><rect x="296.5" y="305.5" width="5" height="5"/><rect x="296.5" y="305.5" width="5" height="5"/><rect x="296.5" y="306.5" width="5" height="5"/><rect x="296.5" y="307.5" width="5" height="5"/><rect x="296.5" y="309.5" width="5" height="5"/><rect x="296.5" y="310.5" width="5" height="5"/><rect x="296.5" y="311.5" width="5" height="5"/><rect x="296.5" y="312.5" width="5" height="5"/><rect x="296.5" y="312.5" width="5" height="5"/><rect x="296.5" y="316.5" width="5" height="5"/><rect x="296.5" y="316.5" width="5" height="5"/><rect x="296.5" y="315.5" width="5" height="5"/><rect x="296.5" y="319.5" width="5" height="5"/><rect x="296.5" y="323.5" width="5" height="5"/><rect x="296.5" y="324.5" width="5" height="5"/><rect x="296.5" y="326.5" width="5" height="5"/><rect x="296.5" y="330.5" width="5" height="5"/><rect x="296.5" y="333.5" width="5" height="5"/><rect x="296.5" y="335.5" width="5" height="5"/><rect x="296.5" y="338.5" width="5" height="5"/><rect x="296.5" y="340.5" width="5" height="5"/><rect x="296.5" y="356.5" width="5" height="5"/><rect x="296.5" y="359.5" width="5" height="5"/><rect x="296.5" y="360.5" width="5" height="5"/><rect x="296.5" y="363.5" width="5" height="5"/><rect x="296.5" y="379.5" width="5" height="5"/><rect x="296.5" y="383.5" width="5" height="5"/><rect x="336.5" y="294.5" width="5" height="5"/><rect x="336.5" y="296.5" width="5" height="5"/><rect x="336.5" y="299.5" width="5" height="5"/><rect x="336.5" y="300.5" width="5" height="5"/><rect x="336.5" y="303.5" width="5" height="5"/><rect x="336.5" y="314.5" width="5" height="5"/><rect x="336.5" y="317.5" width="5" height="5"/><rect x="336.5" y="318.5" width="5" height="5"/><rect x="336.5" y="321.5" width="5" height="5"/><rect x="336.5" y="325.5" width="5" height="5"/><rect x="336.5" y="327.5" width="5" height="5"/><rect x="336.5" y="330.5" width="5" height="5"/><rect x="336.5" y="332.5" width="5" height="5"/><rect x="336.5" y="334.5" width="5" height="5"/><rect x="336.5" y="337.5" width="5" height="5"/><rect x="336.5" y="339.5" width="5" height="5"/><rect x="336.5" y="342.5" width="5" height="5"/><rect x="336.5" y="343.5" width="5" height="5"/><rect x="336.5" y="347.5" width="5" height="5"/><rect x="336.5" y="349.5" width="5" height="5"/><rect x="336.5" y="351.5" width="5" height="5"/><rect x="336.5" y="353.5" width="5" height="5"/><rect x="336.5" y="356.5" width="5" height="5"/><rect x="336.5" y="373.5" width="5" height="5"/><rect x="336.5" y="375.5" width="5" height="5"/><rect x="336.5" y="377.5" width="5" height="5"/><rect x="336.5" y="379.5" width="5" height="5"/><rect x="336.5" y="382.5" width="5" height="5"/><rect x="376.5" y="294.5" width="5" height="5"/><rect x="376.5" y="296.5" width="5" height="5"/><rect x="376.5" y="298.5" width="5" height="5"/><rect x="376.5" y="300.5" width="5" height="5"/><rect x="376.5" y="309.5" width="5" height="5"/><rect x="376.5" y="312.5" width="5" height="5"/><rect x="376.5" y="314.5" width="5" height="5"/><rect x="376.5" y="324.5" width="5" height="5"/><rect x="376.5" y="328.5" width="5" height="5"/><rect x="376.5" y="329.5" width="5" height="5"/><rect x="376.5" y="332.5" width="5" height="5"/><rect x="376.5" y="335.5" width="5" height="5"/><rect x="376.5" y="336.5" width="5" height="5"/><rect x="376.5" y="340.5" width="5" height="5"/><rect x="376.5" y="342.5" width="5" height="5"/><rect x="376.5" y="344.5" width="5" height="5"/><rect x="376.5" y="347.5" width="5" height="5"/><rect x="376.5" y="350.5" width="5" height="5"/><rect x="376.5" y="352.5" width="5" height="5"/><rect x="376.5" y="355.5" width="5" height="5"/><rect x="376.5" y="357.5" width="5" height="5"/><rect x="376.5" y="361.5" width="5" height="5"/><rect x="376.5" y="363.5" width="5" height="5"/><rect x="376.5" y="366.5" width="5" height="5"/><rect x="376.5" y="369.5" width="5" height="5"/><rect x="376.5" y="368.5" width="5" height="5"/><rect x="376.5" y="370.5" width="5" height="5"/><rect x="376.5" y="373.5" width="5" height="5"/><rect x="376.5" y="382.5" width="5" height="5"/><rect x="417.5" y="294.5" width="5" height="5"/><rect x="417.5" y="297.5" width="5" height="5"/><rect x="417.5" y="299.5" width="5" height="5"/><rect x="417.5" y="298.5" width="5" height="5"/><rect x="417.5" y="301.5" width="5" height="5"/><rect x="417.5" y="300.5" width="5" height="5"/><rect x="417.5" y="303.5" width="5" height="5"/><rect x="417.5" y="307.5" width="5" height="5"/><rect x="417.5" y="309.5" width="5" height="5"/><rect x="417.5" y="311.5" width="5" height="5"/><rect x="417.5" y="311.5" width="5" height="5"/><rect x="417.5" y="314.5" width="5" height="5"/><rect x="417.5" y="316.5" width="5" height="5"/><rect x="417.5" y="319.5" width="5" height="5"/><rect x="417.5" y="321.5" width="5" height="5"/><rect x="417.5" y="324.5" width="5" height="5"/><rect x="417.5" y="325.5" width="5" height="5"/><rect x="417.5" y="328.5" width="5" height="5"/><rect x="417.5" y="330.5" width="5" height="5"/><rect x="417.5" y="333.5" width="5" height="5"/><rect x="417.5" y="337.5" width="5" height="5"/><rect x="417.5" y="339.5" width="5" height="5"/><rect x="417.5" y="340.5" width="5" height="5"/><rect x="417.5" y="343.5" width="5" height="5"/><rect x="417.5" y="347.5" width="5" height="5"/><rect x="417.5" y="349.5" width="5" height="5"/><rect x="417.5" y="351.5" width="5" height="5"/><rect x="417.5" y="365.5" width="5" height="5"/><rect x="417.5" y="368.5" width="5" height="5"/><rect x="417.5" y="372.5" width="5" height="5"/><rect x="417.5" y="373.5" width="5" height="5"/><rect x="417.5" y="381.5" width="5" height="5"/><rect x="457.5" y="294.5" width="5" height="5"/><rect x="457.5" y="297.5" width="5" height="5"/><rect x="457.5" y="299.5" width="5" height="5"/><rect x="457.5" y="308.5" width="5" height="5"/><rect x="457.5" y="311.5" width="5" height="5"/><rect x="457.5" y="314.5" width="5" height="5"/><rect x="457.5" y="315.5" width="5" height="5"/><rect x="457.5" y="314.5" width="5" height="5"/><rect x="457.5" y="318.5" width="5" height="5"/><rect x="457.5" y="319.5" width="5" height="5"/><rect x="457.5" y="320.5" width="5" height="5"/><rect x="457.5" y="324.5" width="5" height="5"/><rect x="457.5" y="326.5" width="5" height="5"/><rect x="457.5" y="336.5" width="5" height="5"/><rect x="457.5" y="338.5" width="5" height="5"/><rect x="457.5" y="341.5" width="5" height="5"/><rect x="457.5" y="345.5" width="5" height="5"/><rect x="457.5" y="346.5" width="5" height="5"/><rect x="457.5" y="348.5" width="5" height="5"/><rect x="457.5" y="353.5" width="5" height="5"/><rect x="457.5" y="354.5" width="5" height="5"/><rect x="457.5" y="358.5" width="5" height="5"/><rect x="457.5" y="360.5" width="5" height="5"/><rect x="457.5" y="363.5" width="5" height="5"/><rect x="457.5" y="374.5" width="5" height="5"/><rect x="457.5" y="375.5" width="5" height="5"/><rect x="457.5" y="376.5" width="5" height="5"/><rect x="457.5" y="378.5" width="5" height="5"/><rect x="457.5" y="379.5" width="5" height="5"/><rect x="457.5" y="380.5" width="5" height="5"/><rect x="457.5" y="379.5" width="5" height="5"/><rect x="457.5" y="382.5" width="5" height="5"/></g>
<g fill="none" stroke="#01665E" stroke-width="1.1" stroke-opacity="0.82"><polygon points="308.25,294.1 310.9,299.5 305.6,299.5"/><polygon points="308.25,296.1 310.9,301.5 305.6,301.5"/><polygon points="308.25,297.1 310.9,302.5 305.6,302.5"/><polygon points="308.25,298.1 310.9,303.5 305.6,303.5"/><polygon points="308.25,297.1 310.9,302.5 305.6,302.5"/><polygon points="308.25,299.1 310.9,304.5 305.6,304.5"/><polygon points="308.25,298.1 310.9,303.5 305.6,303.5"/><polygon points="308.25,300.1 310.9,305.5 305.6,305.5"/><polygon points="308.25,301.1 310.9,306.5 305.6,306.5"/><polygon points="308.25,301.1 310.9,306.5 305.6,306.5"/><polygon points="308.25,301.1 310.9,306.5 305.6,306.5"/><polygon points="308.25,302.1 310.9,307.5 305.6,307.5"/><polygon points="308.25,303.1 310.9,308.5 305.6,308.5"/><polygon points="308.25,304.1 310.9,309.5 305.6,309.5"/><polygon points="308.25,306.1 310.9,311.5 305.6,311.5"/><polygon points="308.25,305.1 310.9,310.5 305.6,310.5"/><polygon points="308.25,306.1 310.9,311.5 305.6,311.5"/><polygon points="308.25,307.1 310.9,312.5 305.6,312.5"/><polygon points="308.25,306.1 310.9,311.5 305.6,311.5"/><polygon points="308.25,308.1 310.9,313.5 305.6,313.5"/><polygon points="308.25,307.1 310.9,312.5 305.6,312.5"/><polygon points="308.25,310.1 310.9,315.5 305.6,315.5"/><polygon points="308.25,311.1 310.9,316.5 305.6,316.5"/><polygon points="308.25,312.1 310.9,317.5 305.6,317.5"/><polygon points="308.25,312.1 310.9,317.5 305.6,317.5"/><polygon points="308.25,316.1 310.9,321.5 305.6,321.5"/><polygon points="308.25,316.1 310.9,321.5 305.6,321.5"/><polygon points="308.25,315.1 310.9,320.5 305.6,320.5"/><polygon points="308.25,319.1 310.9,324.5 305.6,324.5"/><polygon points="308.25,323.1 310.9,328.5 305.6,328.5"/><polygon points="308.25,324.1 310.9,329.5 305.6,329.5"/><polygon points="308.25,325.1 310.9,330.5 305.6,330.5"/><polygon points="308.25,326.1 310.9,331.5 305.6,331.5"/><polygon points="308.25,330.1 310.9,335.5 305.6,335.5"/><polygon points="308.25,333.1 310.9,338.5 305.6,338.5"/><polygon points="308.25,335.1 310.9,340.5 305.6,340.5"/><polygon points="308.25,338.1 310.9,343.5 305.6,343.5"/><polygon points="308.25,340.1 310.9,345.5 305.6,345.5"/><polygon points="308.25,356.1 310.9,361.5 305.6,361.5"/><polygon points="308.25,359.1 310.9,364.5 305.6,364.5"/><polygon points="308.25,360.1 310.9,365.5 305.6,365.5"/><polygon points="308.25,363.1 310.9,368.5 305.6,368.5"/><polygon points="308.25,379.1 310.9,384.5 305.6,384.5"/><polygon points="308.25,383.1 310.9,388.5 305.6,388.5"/><polygon points="348.67,294.1 351.32,299.5 346.02,299.5"/><polygon points="348.67,297.1 351.32,302.5 346.02,302.5"/><polygon points="348.67,299.1 351.32,304.5 346.02,304.5"/><polygon points="348.67,300.1 351.32,305.5 346.02,305.5"/><polygon points="348.67,300.1 351.32,305.5 346.02,305.5"/><polygon points="348.67,303.1 351.32,308.5 346.02,308.5"/><polygon points="348.67,314.1 351.32,319.5 346.02,319.5"/><polygon points="348.67,317.1 351.32,322.5 346.02,322.5"/><polygon points="348.67,315.1 351.32,320.5 346.02,320.5"/><polygon points="348.67,319.1 351.32,324.5 346.02,324.5"/><polygon points="348.67,318.1 351.32,323.5 346.02,323.5"/><polygon points="348.67,321.1 351.32,326.5 346.02,326.5"/><polygon points="348.67,325.1 351.32,330.5 346.02,330.5"/><polygon points="348.67,327.1 351.32,332.5 346.02,332.5"/><polygon points="348.67,328.1 351.32,333.5 346.02,333.5"/><polygon points="348.67,329.1 351.32,334.5 346.02,334.5"/><polygon points="348.67,333.1 351.32,338.5 346.02,338.5"/><polygon points="348.67,334.1 351.32,339.5 346.02,339.5"/><polygon points="348.67,337.1 351.32,342.5 346.02,342.5"/><polygon points="348.67,339.1 351.32,344.5 346.02,344.5"/><polygon points="348.67,342.1 351.32,347.5 346.02,347.5"/><polygon points="348.67,343.1 351.32,348.5 346.02,348.5"/><polygon points="348.67,347.1 351.32,352.5 346.02,352.5"/><polygon points="348.67,350.1 351.32,355.5 346.02,355.5"/><polygon points="348.67,352.1 351.32,357.5 346.02,357.5"/><polygon points="348.67,353.1 351.32,358.5 346.02,358.5"/><polygon points="348.67,356.1 351.32,361.5 346.02,361.5"/><polygon points="348.67,373.1 351.32,378.5 346.02,378.5"/><polygon points="348.67,376.1 351.32,381.5 346.02,381.5"/><polygon points="348.67,377.1 351.32,382.5 346.02,382.5"/><polygon points="348.67,380.1 351.32,385.5 346.02,385.5"/><polygon points="348.67,382.1 351.32,387.5 346.02,387.5"/><polygon points="389.09,294.1 391.74,299.5 386.44,299.5"/><polygon points="389.09,296.1 391.74,301.5 386.44,301.5"/><polygon points="389.09,299.1 391.74,304.5 386.44,304.5"/><polygon points="389.09,297.1 391.74,302.5 386.44,302.5"/><polygon points="389.09,300.1 391.74,305.5 386.44,305.5"/><polygon points="389.09,309.1 391.74,314.5 386.44,314.5"/><polygon points="389.09,312.1 391.74,317.5 386.44,317.5"/><polygon points="389.09,315.1 391.74,320.5 386.44,320.5"/><polygon points="389.09,324.1 391.74,329.5 386.44,329.5"/><polygon points="389.09,328.1 391.74,333.5 386.44,333.5"/><polygon points="389.09,329.1 391.74,334.5 386.44,334.5"/><polygon points="389.09,333.1 391.74,338.5 386.44,338.5"/><polygon points="389.09,336.1 391.74,341.5 386.44,341.5"/><polygon points="389.09,336.1 391.74,341.5 386.44,341.5"/><polygon points="389.09,340.1 391.74,345.5 386.44,345.5"/><polygon points="389.09,343.1 391.74,348.5 386.44,348.5"/><polygon points="389.09,344.1 391.74,349.5 386.44,349.5"/><polygon points="389.09,344.1 391.74,349.5 386.44,349.5"/><polygon points="389.09,347.1 391.74,352.5 386.44,352.5"/><polygon points="389.09,350.1 391.74,355.5 386.44,355.5"/><polygon points="389.09,353.1 391.74,358.5 386.44,358.5"/><polygon points="389.09,352.1 391.74,357.5 386.44,357.5"/><polygon points="389.09,355.1 391.74,360.5 386.44,360.5"/><polygon points="389.09,354.1 391.74,359.5 386.44,359.5"/><polygon points="389.09,357.1 391.74,362.5 386.44,362.5"/><polygon points="389.09,361.1 391.74,366.5 386.44,366.5"/><polygon points="389.09,363.1 391.74,368.5 386.44,368.5"/><polygon points="389.09,366.1 391.74,371.5 386.44,371.5"/><polygon points="389.09,369.1 391.74,374.5 386.44,374.5"/><polygon points="389.09,368.1 391.74,373.5 386.44,373.5"/><polygon points="389.09,370.1 391.74,375.5 386.44,375.5"/><polygon points="389.09,373.1 391.74,378.5 386.44,378.5"/><polygon points="389.09,382.1 391.74,387.5 386.44,387.5"/><polygon points="429.51,294.1 432.16,299.5 426.86,299.5"/><polygon points="429.51,297.1 432.16,302.5 426.86,302.5"/><polygon points="429.51,298.1 432.16,303.5 426.86,303.5"/><polygon points="429.51,299.1 432.16,304.5 426.86,304.5"/><polygon points="429.51,301.1 432.16,306.5 426.86,306.5"/><polygon points="429.51,301.1 432.16,306.5 426.86,306.5"/><polygon points="429.51,303.1 432.16,308.5 426.86,308.5"/><polygon points="429.51,307.1 432.16,312.5 426.86,312.5"/><polygon points="429.51,309.1 432.16,314.5 426.86,314.5"/><polygon points="429.51,312.1 432.16,317.5 426.86,317.5"/><polygon points="429.51,311.1 432.16,316.5 426.86,316.5"/><polygon points="429.51,314.1 432.16,319.5 426.86,319.5"/><polygon points="429.51,316.1 432.16,321.5 426.86,321.5"/><polygon points="429.51,319.1 432.16,324.5 426.86,324.5"/><polygon points="429.51,322.1 432.16,327.5 426.86,327.5"/><polygon points="429.51,324.1 432.16,329.5 426.86,329.5"/><polygon points="429.51,325.1 432.16,330.5 426.86,330.5"/><polygon points="429.51,328.1 432.16,333.5 426.86,333.5"/><polygon points="429.51,330.1 432.16,335.5 426.86,335.5"/><polygon points="429.51,333.1 432.16,338.5 426.86,338.5"/><polygon points="429.51,337.1 432.16,342.5 426.86,342.5"/><polygon points="429.51,339.1 432.16,344.5 426.86,344.5"/><polygon points="429.51,338.1 432.16,343.5 426.86,343.5"/><polygon points="429.51,341.1 432.16,346.5 426.86,346.5"/><polygon points="429.51,342.1 432.16,347.5 426.86,347.5"/><polygon points="429.51,343.1 432.16,348.5 426.86,348.5"/><polygon points="429.51,347.1 432.16,352.5 426.86,352.5"/><polygon points="429.51,350.1 432.16,355.5 426.86,355.5"/><polygon points="429.51,351.1 432.16,356.5 426.86,356.5"/><polygon points="429.51,351.1 432.16,356.5 426.86,356.5"/><polygon points="429.51,366.1 432.16,371.5 426.86,371.5"/><polygon points="429.51,368.1 432.16,373.5 426.86,373.5"/><polygon points="429.51,372.1 432.16,377.5 426.86,377.5"/><polygon points="429.51,373.1 432.16,378.5 426.86,378.5"/><polygon points="429.51,381.1 432.16,386.5 426.86,386.5"/><polygon points="469.93,294.1 472.58,299.5 467.28,299.5"/><polygon points="469.93,297.1 472.58,302.5 467.28,302.5"/><polygon points="469.93,296.1 472.58,301.5 467.28,301.5"/><polygon points="469.93,300.1 472.58,305.5 467.28,305.5"/><polygon points="469.93,308.1 472.58,313.5 467.28,313.5"/><polygon points="469.93,311.1 472.58,316.5 467.28,316.5"/><polygon points="469.93,314.1 472.58,319.5 467.28,319.5"/><polygon points="469.93,316.1 472.58,321.5 467.28,321.5"/><polygon points="469.93,318.1 472.58,323.5 467.28,323.5"/><polygon points="469.93,320.1 472.58,325.5 467.28,325.5"/><polygon points="469.93,320.1 472.58,325.5 467.28,325.5"/><polygon points="469.93,325.1 472.58,330.5 467.28,330.5"/><polygon points="469.93,326.1 472.58,331.5 467.28,331.5"/><polygon points="469.93,336.1 472.58,341.5 467.28,341.5"/><polygon points="469.93,338.1 472.58,343.5 467.28,343.5"/><polygon points="469.93,341.1 472.58,346.5 467.28,346.5"/><polygon points="469.93,345.1 472.58,350.5 467.28,350.5"/><polygon points="469.93,346.1 472.58,351.5 467.28,351.5"/><polygon points="469.93,345.1 472.58,350.5 467.28,350.5"/><polygon points="469.93,348.1 472.58,353.5 467.28,353.5"/><polygon points="469.93,353.1 472.58,358.5 467.28,358.5"/><polygon points="469.93,354.1 472.58,359.5 467.28,359.5"/><polygon points="469.93,358.1 472.58,363.5 467.28,363.5"/><polygon points="469.93,360.1 472.58,365.5 467.28,365.5"/><polygon points="469.93,363.1 472.58,368.5 467.28,368.5"/><polygon points="469.93,374.1 472.58,379.5 467.28,379.5"/><polygon points="469.93,375.1 472.58,380.5 467.28,380.5"/><polygon points="469.93,374.1 472.58,379.5 467.28,379.5"/><polygon points="469.93,377.1 472.58,382.5 467.28,382.5"/><polygon points="469.93,376.1 472.58,381.5 467.28,381.5"/><polygon points="469.93,378.1 472.58,383.5 467.28,383.5"/><polygon points="469.93,379.1 472.58,384.5 467.28,384.5"/><polygon points="469.93,378.1 472.58,383.5 467.28,383.5"/><polygon points="469.93,381.1 472.58,386.5 467.28,386.5"/><polygon points="469.93,382.1 472.58,387.5 467.28,387.5"/><polygon points="469.93,383.1 472.58,388.5 467.28,388.5"/></g>
<path d="M287.55 296.8 h2.8" stroke="#55602A" stroke-width="1.3"/><path d="M297.2 296.8 h2.8" stroke="#B04A10" stroke-width="1.3"/><path d="M306.85 296.8 h2.8" stroke="#1F7A1F" stroke-width="1.3"/>
<g fill="#E4E48E" stroke="#565F34" stroke-width="1.15"><circle cx="329.37" cy="296.5" r="2.55"/></g><g fill="#E79E1C" stroke="#A9591A" stroke-width="1.1"><rect x="336.5" y="294.5" width="5" height="5"/></g><g fill="#2F8F2A" stroke="#1B7524" stroke-width="1.15"><polygon points="348.67,294.2 350.97,299 346.37,299"/></g>
<path d="M327.87 296.5 h3" stroke-width="1" stroke="#3A4030"/><path d="M337.5 296.5 h3" stroke-width="1" stroke="#FFE63A"/><path d="M347.47 297.5 h2.4" stroke-width="1" stroke="#8FD05A"/>
<g fill="#E4E48E" stroke="#565F34" stroke-width="1.15"><circle cx="369.79" cy="296.5" r="2.55"/></g><g fill="#E79E1C" stroke="#A9591A" stroke-width="1.1"><rect x="376.5" y="294.5" width="5" height="5"/></g><g fill="#2F8F2A" stroke="#1B7524" stroke-width="1.15"><polygon points="389.09,294.2 391.39,299 386.79,299"/></g>
<path d="M368.29 296.5 h3" stroke-width="1" stroke="#3A4030"/><path d="M377.5 296.5 h3" stroke-width="1" stroke="#FFE63A"/><path d="M387.89 297.5 h2.4" stroke-width="1" stroke="#8FD05A"/>
<g fill="#E4E48E" stroke="#565F34" stroke-width="1.15"><circle cx="410.21" cy="296.5" r="2.55"/></g><g fill="#E79E1C" stroke="#A9591A" stroke-width="1.1"><rect x="417.5" y="294.5" width="5" height="5"/></g><g fill="#2F8F2A" stroke="#1B7524" stroke-width="1.15"><polygon points="429.51,294.2 431.81,299 427.21,299"/></g>
<path d="M408.71 296.5 h3" stroke-width="1" stroke="#3A4030"/><path d="M418.5 296.5 h3" stroke-width="1" stroke="#FFE63A"/><path d="M428.31 297.5 h2.4" stroke-width="1" stroke="#8FD05A"/>
<path d="M449.23 296.8 h2.8" stroke="#55602A" stroke-width="1.3"/><path d="M458.88 296.8 h2.8" stroke="#B04A10" stroke-width="1.3"/><path d="M468.53 296.8 h2.8" stroke="#1F7A1F" stroke-width="1.3"/>
<g fill="#FFFF00" stroke="#FFFF00" stroke-width="0.6" stroke-linejoin="round" stroke-opacity="0.6"><polygon points="508.65,291.75 510.21,294.86 513.64,295.38 511.17,297.82 511.74,301.25 508.65,299.65 505.56,301.25 506.13,297.82 503.66,295.38 507.09,294.86"/><polygon points="518.3,291.75 519.86,294.86 523.29,295.38 520.82,297.82 521.39,301.25 518.3,299.65 515.21,301.25 515.78,297.82 513.31,295.38 516.74,294.86"/><polygon points="527.95,291.75 529.51,294.86 532.94,295.38 530.47,297.82 531.04,301.25 527.95,299.65 524.86,301.25 525.43,297.82 522.96,295.38 526.39,294.86"/><polygon points="549.07,291.75 550.63,294.86 554.06,295.38 551.59,297.82 552.16,301.25 549.07,299.65 545.98,301.25 546.55,297.82 544.08,295.38 547.51,294.86"/><polygon points="558.72,291.75 560.28,294.86 563.71,295.38 561.24,297.82 561.81,301.25 558.72,299.65 555.63,301.25 556.2,297.82 553.73,295.38 557.16,294.86"/><polygon points="568.37,291.75 569.93,294.86 573.36,295.38 570.89,297.82 571.46,301.25 568.37,299.65 565.28,301.25 565.85,297.82 563.38,295.38 566.81,294.86"/><polygon points="589.49,291.75 591.05,294.86 594.48,295.38 592.01,297.82 592.58,301.25 589.49,299.65 586.4,301.25 586.97,297.82 584.5,295.38 587.93,294.86"/><polygon points="599.14,291.75 600.7,294.86 604.13,295.38 601.66,297.82 602.23,301.25 599.14,299.65 596.05,301.25 596.62,297.82 594.15,295.38 597.58,294.86"/><polygon points="608.79,291.75 610.35,294.86 613.78,295.38 611.31,297.82 611.88,301.25 608.79,299.65 605.7,301.25 606.27,297.82 603.8,295.38 607.23,294.86"/><polygon points="629.91,291.75 631.47,294.86 634.9,295.38 632.43,297.82 633,301.25 629.91,299.65 626.82,301.25 627.39,297.82 624.92,295.38 628.35,294.86"/><polygon points="639.56,291.75 641.12,294.86 644.55,295.38 642.08,297.82 642.65,301.25 639.56,299.65 636.47,301.25 637.04,297.82 634.57,295.38 638,294.86"/><polygon points="649.21,291.75 650.77,294.86 654.2,295.38 651.73,297.82 652.3,301.25 649.21,299.65 646.12,301.25 646.69,297.82 644.22,295.38 647.65,294.86"/><polygon points="670.33,291.75 671.89,294.86 675.32,295.38 672.85,297.82 673.42,301.25 670.33,299.65 667.24,301.25 667.81,297.82 665.34,295.38 668.77,294.86"/><polygon points="679.98,291.75 681.54,294.86 684.97,295.38 682.5,297.82 683.07,301.25 679.98,299.65 676.89,301.25 677.46,297.82 674.99,295.38 678.42,294.86"/><polygon points="689.63,291.75 691.19,294.86 694.62,295.38 692.15,297.82 692.72,301.25 689.63,299.65 686.54,301.25 687.11,297.82 684.64,295.38 688.07,294.86"/></g>
<g fill="none" stroke="#445694" stroke-width="1.05" stroke-opacity="0.95"><circle cx="508.65" cy="386.9" r="2.5"/><circle cx="549.07" cy="386.9" r="2.5"/><circle cx="589.49" cy="386.9" r="2.5"/><circle cx="629.91" cy="386.9" r="2.5"/><circle cx="670.33" cy="386.9" r="2.5"/></g>
<g fill="none" stroke="#A23A2E" stroke-width="1.05" stroke-opacity="0.82"><rect x="515.5" y="298.5" width="5" height="5"/><rect x="556.5" y="300.5" width="5" height="5"/><rect x="556.5" y="316.5" width="5" height="5"/><rect x="596.5" y="301.5" width="5" height="5"/><rect x="596.5" y="316.5" width="5" height="5"/><rect x="596.5" y="359.5" width="5" height="5"/><rect x="637.5" y="300.5" width="5" height="5"/><rect x="677.5" y="332.5" width="5" height="5"/><rect x="677.5" y="335.5" width="5" height="5"/><rect x="677.5" y="338.5" width="5" height="5"/></g>
<g fill="none" stroke="#01665E" stroke-width="1.1" stroke-opacity="0.82"><polygon points="527.95,298.1 530.6,303.5 525.3,303.5"/><polygon points="568.37,300.1 571.02,305.5 565.72,305.5"/><polygon points="568.37,316.1 571.02,321.5 565.72,321.5"/><polygon points="608.79,301.1 611.44,306.5 606.14,306.5"/><polygon points="608.79,316.1 611.44,321.5 606.14,321.5"/><polygon points="608.79,359.1 611.44,364.5 606.14,364.5"/><polygon points="649.21,300.1 651.86,305.5 646.56,305.5"/><polygon points="689.63,332.1 692.28,337.5 686.98,337.5"/><polygon points="689.63,335.1 692.28,340.5 686.98,340.5"/><polygon points="689.63,338.1 692.28,343.5 686.98,343.5"/></g>
<g fill="none" stroke="#A23A2E" stroke-width="1.05" stroke-opacity="0.62"><rect x="637.5" y="344.5" width="5" height="5"/><rect x="637.5" y="377.5" width="5" height="5"/></g>
<g fill="none" stroke="#01665E" stroke-width="1.0" stroke-opacity="0.7"><polygon points="649.21,344.1 651.86,349.5 646.56,349.5"/><polygon points="649.21,377.1 651.86,382.5 646.56,382.5"/></g>
<path d="M507.25 296.8 h2.8" stroke="#55602A" stroke-width="1.3"/><path d="M516.9 296.8 h2.8" stroke="#B04A10" stroke-width="1.3"/><path d="M526.55 296.8 h2.8" stroke="#1F7A1F" stroke-width="1.3"/>
<g fill="#E4E48E" stroke="#565F34" stroke-width="1.15"><circle cx="549.07" cy="296.5" r="2.55"/></g><g fill="#E79E1C" stroke="#A9591A" stroke-width="1.1"><rect x="556.5" y="294.5" width="5" height="5"/></g><g fill="#2F8F2A" stroke="#1B7524" stroke-width="1.15"><polygon points="568.37,294.2 570.67,299 566.07,299"/></g>
<path d="M547.57 296.5 h3" stroke-width="1" stroke="#3A4030"/><path d="M557.5 296.5 h3" stroke-width="1" stroke="#FFE63A"/><path d="M567.17 297.5 h2.4" stroke-width="1" stroke="#8FD05A"/>
<g fill="#E4E48E" stroke="#565F34" stroke-width="1.15"><circle cx="589.49" cy="296.5" r="2.55"/></g><g fill="#E79E1C" stroke="#A9591A" stroke-width="1.1"><rect x="596.5" y="294.5" width="5" height="5"/></g><g fill="#2F8F2A" stroke="#1B7524" stroke-width="1.15"><polygon points="608.79,294.2 611.09,299 606.49,299"/></g>
<path d="M587.99 296.5 h3" stroke-width="1" stroke="#3A4030"/><path d="M597.5 296.5 h3" stroke-width="1" stroke="#FFE63A"/><path d="M607.59 297.5 h2.4" stroke-width="1" stroke="#8FD05A"/>
<g fill="#E4E48E" stroke="#565F34" stroke-width="1.15"><circle cx="629.91" cy="296.5" r="2.55"/></g><g fill="#E79E1C" stroke="#A9591A" stroke-width="1.1"><rect x="637.5" y="294.5" width="5" height="5"/></g><g fill="#2F8F2A" stroke="#1B7524" stroke-width="1.15"><polygon points="649.21,294.2 651.51,299 646.91,299"/></g>
<path d="M628.41 296.5 h3" stroke-width="1" stroke="#3A4030"/><path d="M638.5 296.5 h3" stroke-width="1" stroke="#FFE63A"/><path d="M648.01 297.5 h2.4" stroke-width="1" stroke="#8FD05A"/>
<path d="M668.93 296.8 h2.8" stroke="#55602A" stroke-width="1.3"/><path d="M678.58 296.8 h2.8" stroke="#B04A10" stroke-width="1.3"/><path d="M688.23 296.8 h2.8" stroke="#1F7A1F" stroke-width="1.3"/>
</svg>
</body></html>
